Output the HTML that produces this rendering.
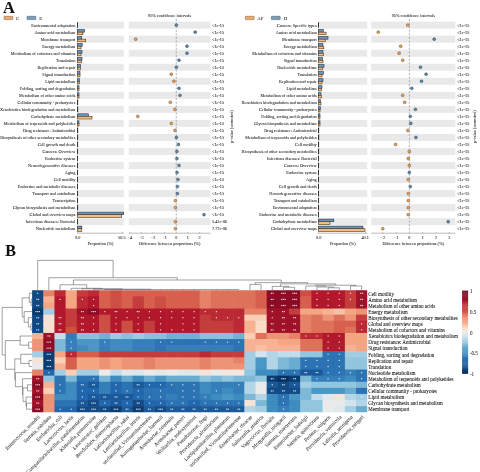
<!DOCTYPE html>
<html><head><meta charset="utf-8"><title>Figure</title>
<style>html,body{margin:0;padding:0;background:#fff;width:480px;height:472px;overflow:hidden}
svg text{font-family:'Liberation Serif',serif;stroke:currentColor;stroke-width:0.06px}</style></head>
<body>
<svg width="480" height="472" viewBox="0 0 480 472" style="display:block;font-family:'Liberation Serif',serif;will-change:transform">
<rect width="480" height="472" fill="#fff"/>
<text x="3.10" y="13.20" font-size="16.4" text-anchor="start" fill="#111" color="#111" font-weight="bold" >A</text>
<text x="5.20" y="255.60" font-size="16.0" text-anchor="start" fill="#111" color="#111" font-weight="bold" >B</text>
<rect x="77.3" y="21.65" width="46.50" height="7" fill="#e9e9e9"/>
<rect x="128.75" y="21.65" width="81.75" height="7" fill="#e9e9e9"/>
<rect x="77.3" y="35.69" width="46.50" height="7" fill="#e9e9e9"/>
<rect x="128.75" y="35.69" width="81.75" height="7" fill="#e9e9e9"/>
<rect x="77.3" y="49.73" width="46.50" height="7" fill="#e9e9e9"/>
<rect x="128.75" y="49.73" width="81.75" height="7" fill="#e9e9e9"/>
<rect x="77.3" y="63.77" width="46.50" height="7" fill="#e9e9e9"/>
<rect x="128.75" y="63.77" width="81.75" height="7" fill="#e9e9e9"/>
<rect x="77.3" y="77.81" width="46.50" height="7" fill="#e9e9e9"/>
<rect x="128.75" y="77.81" width="81.75" height="7" fill="#e9e9e9"/>
<rect x="77.3" y="91.85" width="46.50" height="7" fill="#e9e9e9"/>
<rect x="128.75" y="91.85" width="81.75" height="7" fill="#e9e9e9"/>
<rect x="77.3" y="105.89" width="46.50" height="7" fill="#e9e9e9"/>
<rect x="128.75" y="105.89" width="81.75" height="7" fill="#e9e9e9"/>
<rect x="77.3" y="119.93" width="46.50" height="7" fill="#e9e9e9"/>
<rect x="128.75" y="119.93" width="81.75" height="7" fill="#e9e9e9"/>
<rect x="77.3" y="133.97" width="46.50" height="7" fill="#e9e9e9"/>
<rect x="128.75" y="133.97" width="81.75" height="7" fill="#e9e9e9"/>
<rect x="77.3" y="148.01" width="46.50" height="7" fill="#e9e9e9"/>
<rect x="128.75" y="148.01" width="81.75" height="7" fill="#e9e9e9"/>
<rect x="77.3" y="162.05" width="46.50" height="7" fill="#e9e9e9"/>
<rect x="128.75" y="162.05" width="81.75" height="7" fill="#e9e9e9"/>
<rect x="77.3" y="176.09" width="46.50" height="7" fill="#e9e9e9"/>
<rect x="128.75" y="176.09" width="81.75" height="7" fill="#e9e9e9"/>
<rect x="77.3" y="190.13" width="46.50" height="7" fill="#e9e9e9"/>
<rect x="128.75" y="190.13" width="81.75" height="7" fill="#e9e9e9"/>
<rect x="77.3" y="204.17" width="46.50" height="7" fill="#e9e9e9"/>
<rect x="128.75" y="204.17" width="81.75" height="7" fill="#e9e9e9"/>
<rect x="77.3" y="218.21" width="46.50" height="7" fill="#e9e9e9"/>
<rect x="128.75" y="218.21" width="81.75" height="7" fill="#e9e9e9"/>
<line x1="176.25" y1="19" x2="176.25" y2="232" stroke="#666" stroke-width="0.5" stroke-dasharray="2,1.6"/>
<text x="75.30" y="26.55" font-size="4.25" text-anchor="end" fill="#222" color="#222" font-weight="normal" >Environmental adaptation</text>
<rect x="77.00" y="22.25" width="0.95" height="5.6" fill="#333"/>
<circle cx="176.4" cy="25.15" r="1.45" fill="#6189a6" stroke="#283c4e" stroke-width="0.45"/>
<text x="212.00" y="26.55" font-size="4.25" text-anchor="start" fill="#222" color="#222" font-weight="normal" >&lt;1e-15</text>
<text x="75.30" y="33.57" font-size="4.25" text-anchor="end" fill="#222" color="#222" font-weight="normal" >Amino acid metabolism</text>
<rect x="77.3" y="29.57" width="7.20" height="2.6" fill="#6b97bc" stroke="#1f3347" stroke-width="0.6"/>
<rect x="77.3" y="32.17" width="5.60" height="2.6" fill="#f4bd85" stroke="#4f3312" stroke-width="0.6"/>
<circle cx="195.2" cy="32.17" r="1.45" fill="#6189a6" stroke="#283c4e" stroke-width="0.45"/>
<text x="212.00" y="33.57" font-size="4.25" text-anchor="start" fill="#222" color="#222" font-weight="normal" >&lt;1e-15</text>
<text x="75.30" y="40.59" font-size="4.25" text-anchor="end" fill="#222" color="#222" font-weight="normal" >Membrane transport</text>
<rect x="77.3" y="36.59" width="4.40" height="2.6" fill="#6b97bc" stroke="#1f3347" stroke-width="0.6"/>
<rect x="77.3" y="39.19" width="8.40" height="2.6" fill="#f4bd85" stroke="#4f3312" stroke-width="0.6"/>
<circle cx="135.7" cy="39.19" r="1.45" fill="#e3a162" stroke="#6e4418" stroke-width="0.45"/>
<text x="212.00" y="40.59" font-size="4.25" text-anchor="start" fill="#222" color="#222" font-weight="normal" >&lt;1e-15</text>
<text x="75.30" y="47.61" font-size="4.25" text-anchor="end" fill="#222" color="#222" font-weight="normal" >Energy metabolism</text>
<rect x="77.3" y="43.61" width="4.90" height="2.6" fill="#6b97bc" stroke="#1f3347" stroke-width="0.6"/>
<rect x="77.3" y="46.21" width="3.70" height="2.6" fill="#f4bd85" stroke="#4f3312" stroke-width="0.6"/>
<circle cx="187" cy="46.21" r="1.45" fill="#6189a6" stroke="#283c4e" stroke-width="0.45"/>
<text x="212.00" y="47.61" font-size="4.25" text-anchor="start" fill="#222" color="#222" font-weight="normal" >&lt;1e-15</text>
<text x="75.30" y="54.63" font-size="4.25" text-anchor="end" fill="#222" color="#222" font-weight="normal" >Metabolism of cofactors and vitamins</text>
<rect x="77.3" y="50.63" width="4.70" height="2.6" fill="#6b97bc" stroke="#1f3347" stroke-width="0.6"/>
<rect x="77.3" y="53.23" width="3.70" height="2.6" fill="#f4bd85" stroke="#4f3312" stroke-width="0.6"/>
<circle cx="187" cy="53.23" r="1.45" fill="#6189a6" stroke="#283c4e" stroke-width="0.45"/>
<text x="212.00" y="54.63" font-size="4.25" text-anchor="start" fill="#222" color="#222" font-weight="normal" >&lt;1e-15</text>
<text x="75.30" y="61.65" font-size="4.25" text-anchor="end" fill="#222" color="#222" font-weight="normal" >Translation</text>
<rect x="77.3" y="57.65" width="4.70" height="2.6" fill="#6b97bc" stroke="#1f3347" stroke-width="0.6"/>
<rect x="77.3" y="60.25" width="4.20" height="2.6" fill="#f4bd85" stroke="#4f3312" stroke-width="0.6"/>
<circle cx="179" cy="60.25" r="1.45" fill="#6189a6" stroke="#283c4e" stroke-width="0.45"/>
<text x="212.00" y="61.65" font-size="4.25" text-anchor="start" fill="#222" color="#222" font-weight="normal" >&lt;1e-15</text>
<text x="75.30" y="68.67" font-size="4.25" text-anchor="end" fill="#222" color="#222" font-weight="normal" >Replication and repair</text>
<rect x="77.3" y="64.67" width="3.20" height="2.6" fill="#6b97bc" stroke="#1f3347" stroke-width="0.6"/>
<rect x="77.3" y="67.27" width="3.20" height="2.6" fill="#f4bd85" stroke="#4f3312" stroke-width="0.6"/>
<circle cx="176.4" cy="67.27" r="1.45" fill="#6189a6" stroke="#283c4e" stroke-width="0.45"/>
<text x="212.00" y="68.67" font-size="4.25" text-anchor="start" fill="#222" color="#222" font-weight="normal" >&lt;1e-15</text>
<text x="75.30" y="75.69" font-size="4.25" text-anchor="end" fill="#222" color="#222" font-weight="normal" >Signal transduction</text>
<rect x="77.3" y="71.69" width="2.70" height="2.6" fill="#6b97bc" stroke="#1f3347" stroke-width="0.6"/>
<rect x="77.3" y="74.29" width="2.70" height="2.6" fill="#f4bd85" stroke="#4f3312" stroke-width="0.6"/>
<circle cx="171.3" cy="74.29" r="1.45" fill="#e3a162" stroke="#6e4418" stroke-width="0.45"/>
<text x="212.00" y="75.69" font-size="4.25" text-anchor="start" fill="#222" color="#222" font-weight="normal" >&lt;1e-15</text>
<text x="75.30" y="82.71" font-size="4.25" text-anchor="end" fill="#222" color="#222" font-weight="normal" >Lipid metabolism</text>
<rect x="77.3" y="78.71" width="2.20" height="2.6" fill="#6b97bc" stroke="#1f3347" stroke-width="0.6"/>
<rect x="77.3" y="81.31" width="2.20" height="2.6" fill="#f4bd85" stroke="#4f3312" stroke-width="0.6"/>
<circle cx="173.9" cy="81.31" r="1.45" fill="#e3a162" stroke="#6e4418" stroke-width="0.45"/>
<text x="212.00" y="82.71" font-size="4.25" text-anchor="start" fill="#222" color="#222" font-weight="normal" >&lt;1e-15</text>
<text x="75.30" y="89.73" font-size="4.25" text-anchor="end" fill="#222" color="#222" font-weight="normal" >Folding, sorting and degradation</text>
<rect x="77.3" y="85.73" width="1.70" height="2.6" fill="#6b97bc" stroke="#1f3347" stroke-width="0.6"/>
<rect x="77.3" y="88.33" width="1.70" height="2.6" fill="#f4bd85" stroke="#4f3312" stroke-width="0.6"/>
<circle cx="179" cy="88.33" r="1.45" fill="#6189a6" stroke="#283c4e" stroke-width="0.45"/>
<text x="212.00" y="89.73" font-size="4.25" text-anchor="start" fill="#222" color="#222" font-weight="normal" >&lt;1e-15</text>
<text x="75.30" y="96.75" font-size="4.25" text-anchor="end" fill="#222" color="#222" font-weight="normal" >Metabolism of other amino acids</text>
<rect x="77.3" y="92.75" width="1.70" height="2.6" fill="#6b97bc" stroke="#1f3347" stroke-width="0.6"/>
<rect x="77.3" y="95.35" width="1.70" height="2.6" fill="#f4bd85" stroke="#4f3312" stroke-width="0.6"/>
<circle cx="180" cy="95.35" r="1.45" fill="#6189a6" stroke="#283c4e" stroke-width="0.45"/>
<text x="212.00" y="96.75" font-size="4.25" text-anchor="start" fill="#222" color="#222" font-weight="normal" >&lt;1e-15</text>
<text x="75.30" y="103.77" font-size="4.25" text-anchor="end" fill="#222" color="#222" font-weight="normal" >Cellular community - prokaryotes</text>
<rect x="77.00" y="99.47" width="1.16" height="5.6" fill="#333"/>
<circle cx="170.3" cy="102.37" r="1.45" fill="#e3a162" stroke="#6e4418" stroke-width="0.45"/>
<text x="212.00" y="103.77" font-size="4.25" text-anchor="start" fill="#222" color="#222" font-weight="normal" >&lt;1e-15</text>
<text x="75.30" y="110.79" font-size="4.25" text-anchor="end" fill="#222" color="#222" font-weight="normal" >Xenobiotics biodegradation and metabolism</text>
<rect x="77.00" y="106.49" width="1.16" height="5.6" fill="#333"/>
<circle cx="174.9" cy="109.39" r="1.45" fill="#e3a162" stroke="#6e4418" stroke-width="0.45"/>
<text x="212.00" y="110.79" font-size="4.25" text-anchor="start" fill="#222" color="#222" font-weight="normal" >&lt;1e-15</text>
<text x="75.30" y="117.81" font-size="4.25" text-anchor="end" fill="#222" color="#222" font-weight="normal" >Carbohydrate metabolism</text>
<rect x="77.3" y="113.81" width="11.20" height="2.6" fill="#6b97bc" stroke="#1f3347" stroke-width="0.6"/>
<rect x="77.3" y="116.41" width="14.70" height="2.6" fill="#f4bd85" stroke="#4f3312" stroke-width="0.6"/>
<circle cx="137.8" cy="116.41" r="1.45" fill="#e3a162" stroke="#6e4418" stroke-width="0.45"/>
<text x="212.00" y="117.81" font-size="4.25" text-anchor="start" fill="#222" color="#222" font-weight="normal" >&lt;1e-15</text>
<text x="75.30" y="124.83" font-size="4.25" text-anchor="end" fill="#222" color="#222" font-weight="normal" >Metabolism of terpenoids and polyketides</text>
<rect x="77.3" y="120.83" width="1.70" height="2.6" fill="#6b97bc" stroke="#1f3347" stroke-width="0.6"/>
<rect x="77.3" y="123.43" width="1.70" height="2.6" fill="#f4bd85" stroke="#4f3312" stroke-width="0.6"/>
<circle cx="171.3" cy="123.43" r="1.45" fill="#e3a162" stroke="#6e4418" stroke-width="0.45"/>
<text x="212.00" y="124.83" font-size="4.25" text-anchor="start" fill="#222" color="#222" font-weight="normal" >&lt;1e-15</text>
<text x="75.30" y="131.85" font-size="4.25" text-anchor="end" fill="#222" color="#222" font-weight="normal" >Drug resistance: Antimicrobial</text>
<rect x="77.00" y="127.55" width="1.16" height="5.6" fill="#333"/>
<circle cx="175" cy="130.45" r="1.45" fill="#e3a162" stroke="#6e4418" stroke-width="0.45"/>
<text x="212.00" y="131.85" font-size="4.25" text-anchor="start" fill="#222" color="#222" font-weight="normal" >&lt;1e-15</text>
<text x="75.30" y="138.87" font-size="4.25" text-anchor="end" fill="#222" color="#222" font-weight="normal" >Biosynthesis of other secondary metabolites</text>
<rect x="77.00" y="134.57" width="1.10" height="5.6" fill="#333"/>
<circle cx="176.4" cy="137.47" r="1.45" fill="#6189a6" stroke="#283c4e" stroke-width="0.45"/>
<text x="212.00" y="138.87" font-size="4.25" text-anchor="start" fill="#222" color="#222" font-weight="normal" >&lt;1e-15</text>
<text x="75.30" y="145.89" font-size="4.25" text-anchor="end" fill="#222" color="#222" font-weight="normal" >Cell growth and death</text>
<rect x="77.00" y="141.59" width="1.10" height="5.6" fill="#333"/>
<circle cx="178.4" cy="144.49" r="1.45" fill="#6189a6" stroke="#283c4e" stroke-width="0.45"/>
<text x="212.00" y="145.89" font-size="4.25" text-anchor="start" fill="#222" color="#222" font-weight="normal" >&lt;1e-15</text>
<text x="75.30" y="152.91" font-size="4.25" text-anchor="end" fill="#222" color="#222" font-weight="normal" >Cancers: Overview</text>
<rect x="77.00" y="148.61" width="1.01" height="5.6" fill="#333"/>
<circle cx="176.9" cy="151.51" r="1.45" fill="#6189a6" stroke="#283c4e" stroke-width="0.45"/>
<text x="212.00" y="152.91" font-size="4.25" text-anchor="start" fill="#222" color="#222" font-weight="normal" >&lt;1e-15</text>
<text x="75.30" y="159.93" font-size="4.25" text-anchor="end" fill="#222" color="#222" font-weight="normal" >Endocrine system</text>
<rect x="77.00" y="155.63" width="1.01" height="5.6" fill="#333"/>
<circle cx="176.9" cy="158.53" r="1.45" fill="#6189a6" stroke="#283c4e" stroke-width="0.45"/>
<text x="212.00" y="159.93" font-size="4.25" text-anchor="start" fill="#222" color="#222" font-weight="normal" >&lt;1e-15</text>
<text x="75.30" y="166.95" font-size="4.25" text-anchor="end" fill="#222" color="#222" font-weight="normal" >Neurodegenerative diseases</text>
<rect x="77.00" y="162.65" width="1.01" height="5.6" fill="#333"/>
<circle cx="179" cy="165.55" r="1.45" fill="#6189a6" stroke="#283c4e" stroke-width="0.45"/>
<text x="212.00" y="166.95" font-size="4.25" text-anchor="start" fill="#222" color="#222" font-weight="normal" >&lt;1e-15</text>
<text x="75.30" y="173.97" font-size="4.25" text-anchor="end" fill="#222" color="#222" font-weight="normal" >Aging</text>
<rect x="77.00" y="169.67" width="1.01" height="5.6" fill="#333"/>
<circle cx="177" cy="172.57" r="1.45" fill="#6189a6" stroke="#283c4e" stroke-width="0.45"/>
<text x="212.00" y="173.97" font-size="4.25" text-anchor="start" fill="#222" color="#222" font-weight="normal" >&lt;1e-15</text>
<text x="75.30" y="180.99" font-size="4.25" text-anchor="end" fill="#222" color="#222" font-weight="normal" >Cell motility</text>
<rect x="77.00" y="176.69" width="1.01" height="5.6" fill="#333"/>
<circle cx="178" cy="179.59" r="1.45" fill="#6189a6" stroke="#283c4e" stroke-width="0.45"/>
<text x="212.00" y="180.99" font-size="4.25" text-anchor="start" fill="#222" color="#222" font-weight="normal" >&lt;1e-15</text>
<text x="75.30" y="188.01" font-size="4.25" text-anchor="end" fill="#222" color="#222" font-weight="normal" >Endocrine and metabolic diseases</text>
<rect x="77.00" y="183.71" width="1.01" height="5.6" fill="#333"/>
<circle cx="177.4" cy="186.61" r="1.45" fill="#6189a6" stroke="#283c4e" stroke-width="0.45"/>
<text x="212.00" y="188.01" font-size="4.25" text-anchor="start" fill="#222" color="#222" font-weight="normal" >&lt;1e-15</text>
<text x="75.30" y="195.03" font-size="4.25" text-anchor="end" fill="#222" color="#222" font-weight="normal" >Transport and catabolism</text>
<rect x="77.00" y="190.73" width="1.01" height="5.6" fill="#333"/>
<circle cx="177.4" cy="193.63" r="1.45" fill="#6189a6" stroke="#283c4e" stroke-width="0.45"/>
<text x="212.00" y="195.03" font-size="4.25" text-anchor="start" fill="#222" color="#222" font-weight="normal" >&lt;1e-15</text>
<text x="75.30" y="202.05" font-size="4.25" text-anchor="end" fill="#222" color="#222" font-weight="normal" >Transcription</text>
<rect x="77.00" y="197.75" width="1.01" height="5.6" fill="#333"/>
<circle cx="175.4" cy="200.65" r="1.45" fill="#e3a162" stroke="#6e4418" stroke-width="0.45"/>
<text x="212.00" y="202.05" font-size="4.25" text-anchor="start" fill="#222" color="#222" font-weight="normal" >&lt;1e-15</text>
<text x="75.30" y="209.07" font-size="4.25" text-anchor="end" fill="#222" color="#222" font-weight="normal" >Glycan biosynthesis and metabolism</text>
<rect x="77.00" y="204.77" width="1.10" height="5.6" fill="#333"/>
<circle cx="175.4" cy="207.67" r="1.45" fill="#e3a162" stroke="#6e4418" stroke-width="0.45"/>
<text x="212.00" y="209.07" font-size="4.25" text-anchor="start" fill="#222" color="#222" font-weight="normal" >&lt;1e-15</text>
<text x="75.30" y="216.09" font-size="4.25" text-anchor="end" fill="#222" color="#222" font-weight="normal" >Global and overview maps</text>
<rect x="77.3" y="212.09" width="46.40" height="2.6" fill="#6b97bc" stroke="#1f3347" stroke-width="0.6"/>
<rect x="77.3" y="214.69" width="44.40" height="2.6" fill="#f4bd85" stroke="#4f3312" stroke-width="0.6"/>
<circle cx="204.0" cy="214.69" r="1.45" fill="#6189a6" stroke="#283c4e" stroke-width="0.45"/>
<text x="212.00" y="216.09" font-size="4.25" text-anchor="start" fill="#222" color="#222" font-weight="normal" >&lt;1e-15</text>
<text x="75.30" y="223.11" font-size="4.25" text-anchor="end" fill="#222" color="#222" font-weight="normal" >Infectious diseases: Bacterial</text>
<rect x="77.00" y="218.81" width="0.98" height="5.6" fill="#333"/>
<circle cx="175.4" cy="221.71" r="1.45" fill="#e3a162" stroke="#6e4418" stroke-width="0.45"/>
<text x="212.00" y="223.11" font-size="4.25" text-anchor="start" fill="#222" color="#222" font-weight="normal" >5.43e-06</text>
<text x="75.30" y="230.13" font-size="4.25" text-anchor="end" fill="#222" color="#222" font-weight="normal" >Nucleotide metabolism</text>
<rect x="77.3" y="226.13" width="4.50" height="2.6" fill="#6b97bc" stroke="#1f3347" stroke-width="0.6"/>
<rect x="77.3" y="228.73" width="4.50" height="2.6" fill="#f4bd85" stroke="#4f3312" stroke-width="0.6"/>
<circle cx="175.4" cy="228.73" r="1.45" fill="#e3a162" stroke="#6e4418" stroke-width="0.45"/>
<text x="212.00" y="230.13" font-size="4.25" text-anchor="start" fill="#222" color="#222" font-weight="normal" >7.77e-06</text>
<line x1="77.3" y1="233.2" x2="123.8" y2="233.2" stroke="#777" stroke-width="0.5"/>
<line x1="77.3" y1="233.2" x2="77.3" y2="232.2" stroke="#777" stroke-width="0.5"/>
<line x1="122.3" y1="233.2" x2="122.3" y2="232.2" stroke="#777" stroke-width="0.5"/>
<text x="77.70" y="238.90" font-size="4.25" text-anchor="middle" fill="#222" color="#222" font-weight="normal" >0.0</text>
<text x="121.80" y="238.90" font-size="4.25" text-anchor="middle" fill="#222" color="#222" font-weight="normal" >50.5</text>
<line x1="128.75" y1="233.2" x2="210.5" y2="233.2" stroke="#777" stroke-width="0.5"/>
<line x1="129.85" y1="233.2" x2="129.85" y2="232.2" stroke="#777" stroke-width="0.5"/>
<text x="129.85" y="238.90" font-size="4.25" text-anchor="middle" fill="#222" color="#222" font-weight="normal" >−4</text>
<line x1="141.45" y1="233.2" x2="141.45" y2="232.2" stroke="#777" stroke-width="0.5"/>
<text x="141.45" y="238.90" font-size="4.25" text-anchor="middle" fill="#222" color="#222" font-weight="normal" >−3</text>
<line x1="153.05" y1="233.2" x2="153.05" y2="232.2" stroke="#777" stroke-width="0.5"/>
<text x="153.05" y="238.90" font-size="4.25" text-anchor="middle" fill="#222" color="#222" font-weight="normal" >−2</text>
<line x1="164.65" y1="233.2" x2="164.65" y2="232.2" stroke="#777" stroke-width="0.5"/>
<text x="164.65" y="238.90" font-size="4.25" text-anchor="middle" fill="#222" color="#222" font-weight="normal" >−1</text>
<line x1="176.25" y1="233.2" x2="176.25" y2="232.2" stroke="#777" stroke-width="0.5"/>
<text x="176.25" y="238.90" font-size="4.25" text-anchor="middle" fill="#222" color="#222" font-weight="normal" >0</text>
<line x1="187.85" y1="233.2" x2="187.85" y2="232.2" stroke="#777" stroke-width="0.5"/>
<text x="187.85" y="238.90" font-size="4.25" text-anchor="middle" fill="#222" color="#222" font-weight="normal" >1</text>
<line x1="199.45" y1="233.2" x2="199.45" y2="232.2" stroke="#777" stroke-width="0.5"/>
<text x="199.45" y="238.90" font-size="4.25" text-anchor="middle" fill="#222" color="#222" font-weight="normal" >2</text>
<text x="100.55" y="245.00" font-size="4.25" text-anchor="middle" fill="#222" color="#222" font-weight="normal" >Proportion (%)</text>
<text x="169.62" y="245.00" font-size="4.25" text-anchor="middle" fill="#222" color="#222" font-weight="normal" >Difference between proportions (%)</text>
<text x="169.62" y="16.90" font-size="4.25" text-anchor="middle" fill="#222" color="#222" font-weight="normal" >95% confidence intervals</text>
<rect x="4.0" y="16.3" width="8.8" height="3.3" rx="0.5" fill="#e9aa74" stroke="#8b5a2b" stroke-width="0.5"/>
<text x="15.80" y="19.60" font-size="4.8" text-anchor="start" fill="#222" color="#222" font-weight="normal" >C</text>
<rect x="27.0" y="16.3" width="8.8" height="3.3" rx="0.5" fill="#7f9db8" stroke="#3b5670" stroke-width="0.5"/>
<text x="39.30" y="19.60" font-size="4.8" text-anchor="start" fill="#222" color="#222" font-weight="normal" >E</text>
<text x="0" y="0" font-size="4.25" text-anchor="middle" fill="#222" color="#222" transform="translate(232.5,126.6) rotate(-90)">p-value (corrected)</text>
<rect x="318.3" y="21.65" width="48.90" height="7" fill="#e9e9e9"/>
<rect x="371.2" y="21.65" width="84.10" height="7" fill="#e9e9e9"/>
<rect x="318.3" y="35.69" width="48.90" height="7" fill="#e9e9e9"/>
<rect x="371.2" y="35.69" width="84.10" height="7" fill="#e9e9e9"/>
<rect x="318.3" y="49.73" width="48.90" height="7" fill="#e9e9e9"/>
<rect x="371.2" y="49.73" width="84.10" height="7" fill="#e9e9e9"/>
<rect x="318.3" y="63.77" width="48.90" height="7" fill="#e9e9e9"/>
<rect x="371.2" y="63.77" width="84.10" height="7" fill="#e9e9e9"/>
<rect x="318.3" y="77.81" width="48.90" height="7" fill="#e9e9e9"/>
<rect x="371.2" y="77.81" width="84.10" height="7" fill="#e9e9e9"/>
<rect x="318.3" y="91.85" width="48.90" height="7" fill="#e9e9e9"/>
<rect x="371.2" y="91.85" width="84.10" height="7" fill="#e9e9e9"/>
<rect x="318.3" y="105.89" width="48.90" height="7" fill="#e9e9e9"/>
<rect x="371.2" y="105.89" width="84.10" height="7" fill="#e9e9e9"/>
<rect x="318.3" y="119.93" width="48.90" height="7" fill="#e9e9e9"/>
<rect x="371.2" y="119.93" width="84.10" height="7" fill="#e9e9e9"/>
<rect x="318.3" y="133.97" width="48.90" height="7" fill="#e9e9e9"/>
<rect x="371.2" y="133.97" width="84.10" height="7" fill="#e9e9e9"/>
<rect x="318.3" y="148.01" width="48.90" height="7" fill="#e9e9e9"/>
<rect x="371.2" y="148.01" width="84.10" height="7" fill="#e9e9e9"/>
<rect x="318.3" y="162.05" width="48.90" height="7" fill="#e9e9e9"/>
<rect x="371.2" y="162.05" width="84.10" height="7" fill="#e9e9e9"/>
<rect x="318.3" y="176.09" width="48.90" height="7" fill="#e9e9e9"/>
<rect x="371.2" y="176.09" width="84.10" height="7" fill="#e9e9e9"/>
<rect x="318.3" y="190.13" width="48.90" height="7" fill="#e9e9e9"/>
<rect x="371.2" y="190.13" width="84.10" height="7" fill="#e9e9e9"/>
<rect x="318.3" y="204.17" width="48.90" height="7" fill="#e9e9e9"/>
<rect x="371.2" y="204.17" width="84.10" height="7" fill="#e9e9e9"/>
<rect x="318.3" y="218.21" width="48.90" height="7" fill="#e9e9e9"/>
<rect x="371.2" y="218.21" width="84.10" height="7" fill="#e9e9e9"/>
<line x1="409.4" y1="19" x2="409.4" y2="232" stroke="#666" stroke-width="0.5" stroke-dasharray="2,1.6"/>
<text x="316.70" y="26.55" font-size="4.25" text-anchor="end" fill="#222" color="#222" font-weight="normal" >Cancers: Specific types</text>
<rect x="318.00" y="22.25" width="0.95" height="5.6" fill="#333"/>
<circle cx="407.8" cy="25.15" r="1.45" fill="#e3a162" stroke="#6e4418" stroke-width="0.45"/>
<text x="457.20" y="26.55" font-size="4.25" text-anchor="start" fill="#222" color="#222" font-weight="normal" >&lt;1e-15</text>
<text x="316.70" y="33.57" font-size="4.25" text-anchor="end" fill="#222" color="#222" font-weight="normal" >Amino acid metabolism</text>
<rect x="318.3" y="29.57" width="5.00" height="2.6" fill="#6b97bc" stroke="#1f3347" stroke-width="0.6"/>
<rect x="318.3" y="32.17" width="7.80" height="2.6" fill="#f4bd85" stroke="#4f3312" stroke-width="0.6"/>
<circle cx="378.3" cy="32.17" r="1.45" fill="#e3a162" stroke="#6e4418" stroke-width="0.45"/>
<text x="457.20" y="33.57" font-size="4.25" text-anchor="start" fill="#222" color="#222" font-weight="normal" >&lt;1e-15</text>
<text x="316.70" y="40.59" font-size="4.25" text-anchor="end" fill="#222" color="#222" font-weight="normal" >Membrane transport</text>
<rect x="318.3" y="36.59" width="9.70" height="2.6" fill="#6b97bc" stroke="#1f3347" stroke-width="0.6"/>
<rect x="318.3" y="39.19" width="6.90" height="2.6" fill="#f4bd85" stroke="#4f3312" stroke-width="0.6"/>
<circle cx="434.2" cy="39.19" r="1.45" fill="#6189a6" stroke="#283c4e" stroke-width="0.45"/>
<text x="457.20" y="40.59" font-size="4.25" text-anchor="start" fill="#222" color="#222" font-weight="normal" >&lt;1e-15</text>
<text x="316.70" y="47.61" font-size="4.25" text-anchor="end" fill="#222" color="#222" font-weight="normal" >Energy metabolism</text>
<rect x="318.3" y="43.61" width="4.60" height="2.6" fill="#6b97bc" stroke="#1f3347" stroke-width="0.6"/>
<rect x="318.3" y="46.21" width="5.50" height="2.6" fill="#f4bd85" stroke="#4f3312" stroke-width="0.6"/>
<circle cx="400.7" cy="46.21" r="1.45" fill="#e3a162" stroke="#6e4418" stroke-width="0.45"/>
<text x="457.20" y="47.61" font-size="4.25" text-anchor="start" fill="#222" color="#222" font-weight="normal" >&lt;1e-15</text>
<text x="316.70" y="54.63" font-size="4.25" text-anchor="end" fill="#222" color="#222" font-weight="normal" >Metabolism of cofactors and vitamins</text>
<rect x="318.3" y="50.63" width="4.70" height="2.6" fill="#6b97bc" stroke="#1f3347" stroke-width="0.6"/>
<rect x="318.3" y="53.23" width="5.20" height="2.6" fill="#f4bd85" stroke="#4f3312" stroke-width="0.6"/>
<circle cx="399.1" cy="53.23" r="1.45" fill="#e3a162" stroke="#6e4418" stroke-width="0.45"/>
<text x="457.20" y="54.63" font-size="4.25" text-anchor="start" fill="#222" color="#222" font-weight="normal" >&lt;1e-15</text>
<text x="316.70" y="61.65" font-size="4.25" text-anchor="end" fill="#222" color="#222" font-weight="normal" >Signal transduction</text>
<rect x="318.3" y="57.65" width="4.20" height="2.6" fill="#6b97bc" stroke="#1f3347" stroke-width="0.6"/>
<rect x="318.3" y="60.25" width="4.70" height="2.6" fill="#f4bd85" stroke="#4f3312" stroke-width="0.6"/>
<circle cx="402.7" cy="60.25" r="1.45" fill="#e3a162" stroke="#6e4418" stroke-width="0.45"/>
<text x="457.20" y="61.65" font-size="4.25" text-anchor="start" fill="#222" color="#222" font-weight="normal" >&lt;1e-15</text>
<text x="316.70" y="68.67" font-size="4.25" text-anchor="end" fill="#222" color="#222" font-weight="normal" >Nucleotide metabolism</text>
<rect x="318.3" y="64.67" width="5.70" height="2.6" fill="#6b97bc" stroke="#1f3347" stroke-width="0.6"/>
<rect x="318.3" y="67.27" width="4.20" height="2.6" fill="#f4bd85" stroke="#4f3312" stroke-width="0.6"/>
<circle cx="420.5" cy="67.27" r="1.45" fill="#6189a6" stroke="#283c4e" stroke-width="0.45"/>
<text x="457.20" y="68.67" font-size="4.25" text-anchor="start" fill="#222" color="#222" font-weight="normal" >&lt;1e-15</text>
<text x="316.70" y="75.69" font-size="4.25" text-anchor="end" fill="#222" color="#222" font-weight="normal" >Translation</text>
<rect x="318.3" y="71.69" width="5.20" height="2.6" fill="#6b97bc" stroke="#1f3347" stroke-width="0.6"/>
<rect x="318.3" y="74.29" width="3.70" height="2.6" fill="#f4bd85" stroke="#4f3312" stroke-width="0.6"/>
<circle cx="426.1" cy="74.29" r="1.45" fill="#6189a6" stroke="#283c4e" stroke-width="0.45"/>
<text x="457.20" y="75.69" font-size="4.25" text-anchor="start" fill="#222" color="#222" font-weight="normal" >&lt;1e-15</text>
<text x="316.70" y="82.71" font-size="4.25" text-anchor="end" fill="#222" color="#222" font-weight="normal" >Replication and repair</text>
<rect x="318.3" y="78.71" width="4.70" height="2.6" fill="#6b97bc" stroke="#1f3347" stroke-width="0.6"/>
<rect x="318.3" y="81.31" width="3.70" height="2.6" fill="#f4bd85" stroke="#4f3312" stroke-width="0.6"/>
<circle cx="421.5" cy="81.31" r="1.45" fill="#6189a6" stroke="#283c4e" stroke-width="0.45"/>
<text x="457.20" y="82.71" font-size="4.25" text-anchor="start" fill="#222" color="#222" font-weight="normal" >&lt;1e-15</text>
<text x="316.70" y="89.73" font-size="4.25" text-anchor="end" fill="#222" color="#222" font-weight="normal" >Lipid metabolism</text>
<rect x="318.3" y="85.73" width="3.70" height="2.6" fill="#6b97bc" stroke="#1f3347" stroke-width="0.6"/>
<rect x="318.3" y="88.33" width="3.20" height="2.6" fill="#f4bd85" stroke="#4f3312" stroke-width="0.6"/>
<circle cx="411.8" cy="88.33" r="1.45" fill="#6189a6" stroke="#283c4e" stroke-width="0.45"/>
<text x="457.20" y="89.73" font-size="4.25" text-anchor="start" fill="#222" color="#222" font-weight="normal" >&lt;1e-15</text>
<text x="316.70" y="96.75" font-size="4.25" text-anchor="end" fill="#222" color="#222" font-weight="normal" >Metabolism of other amino acids</text>
<rect x="318.3" y="92.75" width="2.70" height="2.6" fill="#6b97bc" stroke="#1f3347" stroke-width="0.6"/>
<rect x="318.3" y="95.35" width="3.20" height="2.6" fill="#f4bd85" stroke="#4f3312" stroke-width="0.6"/>
<circle cx="402.7" cy="95.35" r="1.45" fill="#e3a162" stroke="#6e4418" stroke-width="0.45"/>
<text x="457.20" y="96.75" font-size="4.25" text-anchor="start" fill="#222" color="#222" font-weight="normal" >&lt;1e-15</text>
<text x="316.70" y="103.77" font-size="4.25" text-anchor="end" fill="#222" color="#222" font-weight="normal" >Xenobiotics biodegradation and metabolism</text>
<rect x="318.3" y="99.77" width="2.20" height="2.6" fill="#6b97bc" stroke="#1f3347" stroke-width="0.6"/>
<rect x="318.3" y="102.37" width="2.70" height="2.6" fill="#f4bd85" stroke="#4f3312" stroke-width="0.6"/>
<circle cx="404.7" cy="102.37" r="1.45" fill="#e3a162" stroke="#6e4418" stroke-width="0.45"/>
<text x="457.20" y="103.77" font-size="4.25" text-anchor="start" fill="#222" color="#222" font-weight="normal" >&lt;1e-15</text>
<text x="316.70" y="110.79" font-size="4.25" text-anchor="end" fill="#222" color="#222" font-weight="normal" >Cellular community - prokaryotes</text>
<rect x="318.3" y="106.79" width="2.20" height="2.6" fill="#6b97bc" stroke="#1f3347" stroke-width="0.6"/>
<rect x="318.3" y="109.39" width="1.70" height="2.6" fill="#f4bd85" stroke="#4f3312" stroke-width="0.6"/>
<circle cx="415.4" cy="109.39" r="1.45" fill="#6189a6" stroke="#283c4e" stroke-width="0.45"/>
<text x="457.20" y="110.79" font-size="4.25" text-anchor="start" fill="#222" color="#222" font-weight="normal" >&lt;1e-15</text>
<text x="316.70" y="117.81" font-size="4.25" text-anchor="end" fill="#222" color="#222" font-weight="normal" >Folding, sorting and degradation</text>
<rect x="318.3" y="113.81" width="1.70" height="2.6" fill="#6b97bc" stroke="#1f3347" stroke-width="0.6"/>
<rect x="318.3" y="116.41" width="1.70" height="2.6" fill="#f4bd85" stroke="#4f3312" stroke-width="0.6"/>
<circle cx="410.3" cy="116.41" r="1.45" fill="#6189a6" stroke="#283c4e" stroke-width="0.45"/>
<text x="457.20" y="117.81" font-size="4.25" text-anchor="start" fill="#222" color="#222" font-weight="normal" >&lt;1e-15</text>
<text x="316.70" y="124.83" font-size="4.25" text-anchor="end" fill="#222" color="#222" font-weight="normal" >Glycan biosynthesis and metabolism</text>
<rect x="318.3" y="120.83" width="1.70" height="2.6" fill="#6b97bc" stroke="#1f3347" stroke-width="0.6"/>
<rect x="318.3" y="123.43" width="1.70" height="2.6" fill="#f4bd85" stroke="#4f3312" stroke-width="0.6"/>
<circle cx="410.8" cy="123.43" r="1.45" fill="#6189a6" stroke="#283c4e" stroke-width="0.45"/>
<text x="457.20" y="124.83" font-size="4.25" text-anchor="start" fill="#222" color="#222" font-weight="normal" >&lt;1e-15</text>
<text x="316.70" y="131.85" font-size="4.25" text-anchor="end" fill="#222" color="#222" font-weight="normal" >Drug resistance: Antimicrobial</text>
<rect x="318.00" y="127.55" width="1.16" height="5.6" fill="#333"/>
<circle cx="407.8" cy="130.45" r="1.45" fill="#e3a162" stroke="#6e4418" stroke-width="0.45"/>
<text x="457.20" y="131.85" font-size="4.25" text-anchor="start" fill="#222" color="#222" font-weight="normal" >&lt;1e-15</text>
<text x="316.70" y="138.87" font-size="4.25" text-anchor="end" fill="#222" color="#222" font-weight="normal" >Metabolism of terpenoids and polyketides</text>
<rect x="318.00" y="134.57" width="1.16" height="5.6" fill="#333"/>
<circle cx="415.9" cy="137.47" r="1.45" fill="#6189a6" stroke="#283c4e" stroke-width="0.45"/>
<text x="457.20" y="138.87" font-size="4.25" text-anchor="start" fill="#222" color="#222" font-weight="normal" >&lt;1e-15</text>
<text x="316.70" y="145.89" font-size="4.25" text-anchor="end" fill="#222" color="#222" font-weight="normal" >Cell motility</text>
<rect x="318.00" y="141.59" width="1.10" height="5.6" fill="#333"/>
<circle cx="395.6" cy="144.49" r="1.45" fill="#e3a162" stroke="#6e4418" stroke-width="0.45"/>
<text x="457.20" y="145.89" font-size="4.25" text-anchor="start" fill="#222" color="#222" font-weight="normal" >&lt;1e-15</text>
<text x="316.70" y="152.91" font-size="4.25" text-anchor="end" fill="#222" color="#222" font-weight="normal" >Biosynthesis of other secondary metabolites</text>
<rect x="318.00" y="148.61" width="1.10" height="5.6" fill="#333"/>
<circle cx="409.3" cy="151.51" r="1.45" fill="#e3a162" stroke="#6e4418" stroke-width="0.45"/>
<text x="457.20" y="152.91" font-size="4.25" text-anchor="start" fill="#222" color="#222" font-weight="normal" >&lt;1e-15</text>
<text x="316.70" y="159.93" font-size="4.25" text-anchor="end" fill="#222" color="#222" font-weight="normal" >Infectious diseases: Bacterial</text>
<rect x="318.00" y="155.63" width="1.01" height="5.6" fill="#333"/>
<circle cx="408.3" cy="158.53" r="1.45" fill="#e3a162" stroke="#6e4418" stroke-width="0.45"/>
<text x="457.20" y="159.93" font-size="4.25" text-anchor="start" fill="#222" color="#222" font-weight="normal" >&lt;1e-15</text>
<text x="316.70" y="166.95" font-size="4.25" text-anchor="end" fill="#222" color="#222" font-weight="normal" >Cancers: Overview</text>
<rect x="318.00" y="162.65" width="1.01" height="5.6" fill="#333"/>
<circle cx="409.3" cy="165.55" r="1.45" fill="#e3a162" stroke="#6e4418" stroke-width="0.45"/>
<text x="457.20" y="166.95" font-size="4.25" text-anchor="start" fill="#222" color="#222" font-weight="normal" >&lt;1e-15</text>
<text x="316.70" y="173.97" font-size="4.25" text-anchor="end" fill="#222" color="#222" font-weight="normal" >Endocrine system</text>
<rect x="318.00" y="169.67" width="1.01" height="5.6" fill="#333"/>
<circle cx="409.3" cy="172.57" r="1.45" fill="#6189a6" stroke="#283c4e" stroke-width="0.45"/>
<text x="457.20" y="173.97" font-size="4.25" text-anchor="start" fill="#222" color="#222" font-weight="normal" >&lt;1e-15</text>
<text x="316.70" y="180.99" font-size="4.25" text-anchor="end" fill="#222" color="#222" font-weight="normal" >Aging</text>
<rect x="318.00" y="176.69" width="1.01" height="5.6" fill="#333"/>
<circle cx="408.3" cy="179.59" r="1.45" fill="#e3a162" stroke="#6e4418" stroke-width="0.45"/>
<text x="457.20" y="180.99" font-size="4.25" text-anchor="start" fill="#222" color="#222" font-weight="normal" >&lt;1e-15</text>
<text x="316.70" y="188.01" font-size="4.25" text-anchor="end" fill="#222" color="#222" font-weight="normal" >Cell growth and death</text>
<rect x="318.00" y="183.71" width="1.01" height="5.6" fill="#333"/>
<circle cx="410.3" cy="186.61" r="1.45" fill="#6189a6" stroke="#283c4e" stroke-width="0.45"/>
<text x="457.20" y="188.01" font-size="4.25" text-anchor="start" fill="#222" color="#222" font-weight="normal" >&lt;1e-15</text>
<text x="316.70" y="195.03" font-size="4.25" text-anchor="end" fill="#222" color="#222" font-weight="normal" >Neurodegenerative diseases</text>
<rect x="318.00" y="190.73" width="1.01" height="5.6" fill="#333"/>
<circle cx="408.3" cy="193.63" r="1.45" fill="#e3a162" stroke="#6e4418" stroke-width="0.45"/>
<text x="457.20" y="195.03" font-size="4.25" text-anchor="start" fill="#222" color="#222" font-weight="normal" >&lt;1e-15</text>
<text x="316.70" y="202.05" font-size="4.25" text-anchor="end" fill="#222" color="#222" font-weight="normal" >Transport and catabolism</text>
<rect x="318.00" y="197.75" width="1.01" height="5.6" fill="#333"/>
<circle cx="408.3" cy="200.65" r="1.45" fill="#e3a162" stroke="#6e4418" stroke-width="0.45"/>
<text x="457.20" y="202.05" font-size="4.25" text-anchor="start" fill="#222" color="#222" font-weight="normal" >&lt;1e-15</text>
<text x="316.70" y="209.07" font-size="4.25" text-anchor="end" fill="#222" color="#222" font-weight="normal" >Environmental adaptation</text>
<rect x="318.00" y="204.77" width="1.01" height="5.6" fill="#333"/>
<circle cx="408.3" cy="207.67" r="1.45" fill="#e3a162" stroke="#6e4418" stroke-width="0.45"/>
<text x="457.20" y="209.07" font-size="4.25" text-anchor="start" fill="#222" color="#222" font-weight="normal" >&lt;1e-15</text>
<text x="316.70" y="216.09" font-size="4.25" text-anchor="end" fill="#222" color="#222" font-weight="normal" >Endocrine and metabolic diseases</text>
<rect x="318.00" y="211.79" width="1.01" height="5.6" fill="#333"/>
<circle cx="408.3" cy="214.69" r="1.45" fill="#e3a162" stroke="#6e4418" stroke-width="0.45"/>
<text x="457.20" y="216.09" font-size="4.25" text-anchor="start" fill="#222" color="#222" font-weight="normal" >&lt;1e-15</text>
<text x="316.70" y="223.11" font-size="4.25" text-anchor="end" fill="#222" color="#222" font-weight="normal" >Carbohydrate metabolism</text>
<rect x="318.3" y="219.11" width="15.50" height="2.6" fill="#6b97bc" stroke="#1f3347" stroke-width="0.6"/>
<rect x="318.3" y="221.71" width="11.70" height="2.6" fill="#f4bd85" stroke="#4f3312" stroke-width="0.6"/>
<circle cx="448.2" cy="221.71" r="1.45" fill="#6189a6" stroke="#283c4e" stroke-width="0.45"/>
<text x="457.20" y="223.11" font-size="4.25" text-anchor="start" fill="#222" color="#222" font-weight="normal" >&lt;1e-15</text>
<text x="316.70" y="230.13" font-size="4.25" text-anchor="end" fill="#222" color="#222" font-weight="normal" >Global and overview maps</text>
<rect x="318.3" y="226.13" width="44.70" height="2.6" fill="#6b97bc" stroke="#1f3347" stroke-width="0.6"/>
<rect x="318.3" y="228.73" width="46.70" height="2.6" fill="#f4bd85" stroke="#4f3312" stroke-width="0.6"/>
<circle cx="382.8" cy="228.73" r="1.45" fill="#e3a162" stroke="#6e4418" stroke-width="0.45"/>
<text x="457.20" y="230.13" font-size="4.25" text-anchor="start" fill="#222" color="#222" font-weight="normal" >&lt;1e-15</text>
<line x1="318.3" y1="233.2" x2="367.2" y2="233.2" stroke="#777" stroke-width="0.5"/>
<line x1="318.3" y1="233.2" x2="318.3" y2="232.2" stroke="#777" stroke-width="0.5"/>
<line x1="365.7" y1="233.2" x2="365.7" y2="232.2" stroke="#777" stroke-width="0.5"/>
<text x="318.70" y="238.90" font-size="4.25" text-anchor="middle" fill="#222" color="#222" font-weight="normal" >0.0</text>
<text x="365.20" y="238.90" font-size="4.25" text-anchor="middle" fill="#222" color="#222" font-weight="normal" >40.1</text>
<line x1="371.2" y1="233.2" x2="455.3" y2="233.2" stroke="#777" stroke-width="0.5"/>
<line x1="382.80" y1="233.2" x2="382.80" y2="232.2" stroke="#777" stroke-width="0.5"/>
<text x="382.80" y="238.90" font-size="4.25" text-anchor="middle" fill="#222" color="#222" font-weight="normal" >−2</text>
<line x1="396.10" y1="233.2" x2="396.10" y2="232.2" stroke="#777" stroke-width="0.5"/>
<text x="396.10" y="238.90" font-size="4.25" text-anchor="middle" fill="#222" color="#222" font-weight="normal" >−1</text>
<line x1="409.40" y1="233.2" x2="409.40" y2="232.2" stroke="#777" stroke-width="0.5"/>
<text x="409.40" y="238.90" font-size="4.25" text-anchor="middle" fill="#222" color="#222" font-weight="normal" >0</text>
<line x1="422.70" y1="233.2" x2="422.70" y2="232.2" stroke="#777" stroke-width="0.5"/>
<text x="422.70" y="238.90" font-size="4.25" text-anchor="middle" fill="#222" color="#222" font-weight="normal" >1</text>
<line x1="436.00" y1="233.2" x2="436.00" y2="232.2" stroke="#777" stroke-width="0.5"/>
<text x="436.00" y="238.90" font-size="4.25" text-anchor="middle" fill="#222" color="#222" font-weight="normal" >2</text>
<line x1="449.30" y1="233.2" x2="449.30" y2="232.2" stroke="#777" stroke-width="0.5"/>
<text x="449.30" y="238.90" font-size="4.25" text-anchor="middle" fill="#222" color="#222" font-weight="normal" >3</text>
<text x="342.75" y="245.00" font-size="4.25" text-anchor="middle" fill="#222" color="#222" font-weight="normal" >Proportion (%)</text>
<text x="413.25" y="245.00" font-size="4.25" text-anchor="middle" fill="#222" color="#222" font-weight="normal" >Difference between proportions (%)</text>
<text x="413.25" y="16.90" font-size="4.25" text-anchor="middle" fill="#222" color="#222" font-weight="normal" >95% confidence intervals</text>
<rect x="245.39999999999998" y="16.3" width="8.8" height="3.3" rx="0.5" fill="#e9aa74" stroke="#8b5a2b" stroke-width="0.5"/>
<text x="257.20" y="19.60" font-size="4.8" text-anchor="start" fill="#222" color="#222" font-weight="normal" >AF</text>
<rect x="271.4" y="16.3" width="8.8" height="3.3" rx="0.5" fill="#7f9db8" stroke="#3b5670" stroke-width="0.5"/>
<text x="283.70" y="19.60" font-size="4.8" text-anchor="start" fill="#222" color="#222" font-weight="normal" >D</text>
<text x="0" y="0" font-size="4.25" text-anchor="middle" fill="#222" color="#222" transform="translate(475.6,126.6) rotate(-90)">p-value (corrected)</text>
<rect x="32.10" y="290.25" width="11.77" height="6.70" fill="#114882"/>
<rect x="43.27" y="290.25" width="11.77" height="6.70" fill="#e58268"/>
<rect x="54.44" y="290.25" width="11.77" height="6.70" fill="#bb2a34"/>
<rect x="65.61" y="290.25" width="11.77" height="6.70" fill="#f4a582"/>
<rect x="76.78" y="290.25" width="11.77" height="6.70" fill="#c43c3c"/>
<rect x="87.95" y="290.25" width="11.77" height="6.70" fill="#bb2a34"/>
<rect x="99.12" y="290.25" width="11.77" height="6.70" fill="#d6604d"/>
<rect x="110.29" y="290.25" width="11.77" height="6.70" fill="#cd4e44"/>
<rect x="121.46" y="290.25" width="11.77" height="6.70" fill="#d6604d"/>
<rect x="132.63" y="290.25" width="11.77" height="6.70" fill="#d6604d"/>
<rect x="143.80" y="290.25" width="11.77" height="6.70" fill="#d6604d"/>
<rect x="154.97" y="290.25" width="11.77" height="6.70" fill="#d6604d"/>
<rect x="166.14" y="290.25" width="11.77" height="6.70" fill="#d6604d"/>
<rect x="177.31" y="290.25" width="11.77" height="6.70" fill="#d6604d"/>
<rect x="188.48" y="290.25" width="11.77" height="6.70" fill="#d6604d"/>
<rect x="199.65" y="290.25" width="11.77" height="6.70" fill="#e58268"/>
<rect x="210.82" y="290.25" width="11.77" height="6.70" fill="#de715a"/>
<rect x="221.99" y="290.25" width="11.77" height="6.70" fill="#de715a"/>
<rect x="233.16" y="290.25" width="11.77" height="6.70" fill="#de715a"/>
<rect x="244.33" y="290.25" width="11.77" height="6.70" fill="#de715a"/>
<rect x="255.50" y="290.25" width="11.77" height="6.70" fill="#d6604d"/>
<rect x="266.67" y="290.25" width="11.77" height="6.70" fill="#8c0c25"/>
<rect x="277.84" y="290.25" width="11.77" height="6.70" fill="#8c0c25"/>
<rect x="289.01" y="290.25" width="11.77" height="6.70" fill="#8c0c25"/>
<rect x="300.18" y="290.25" width="11.77" height="6.70" fill="#cd4e44"/>
<rect x="311.35" y="290.25" width="11.77" height="6.70" fill="#b2182b"/>
<rect x="322.52" y="290.25" width="11.77" height="6.70" fill="#b2182b"/>
<rect x="333.69" y="290.25" width="11.77" height="6.70" fill="#b2182b"/>
<rect x="344.86" y="290.25" width="11.77" height="6.70" fill="#c43c3c"/>
<rect x="356.03" y="290.25" width="11.17" height="6.70" fill="#9f1228"/>
<rect x="32.10" y="296.35" width="11.77" height="6.70" fill="#114882"/>
<rect x="43.27" y="296.35" width="11.77" height="6.70" fill="#f6b293"/>
<rect x="54.44" y="296.35" width="11.77" height="6.70" fill="#b2182b"/>
<rect x="65.61" y="296.35" width="11.77" height="6.70" fill="#f4a582"/>
<rect x="76.78" y="296.35" width="11.77" height="6.70" fill="#bb2a34"/>
<rect x="87.95" y="296.35" width="11.77" height="6.70" fill="#b2182b"/>
<rect x="99.12" y="296.35" width="11.77" height="6.70" fill="#d6604d"/>
<rect x="110.29" y="296.35" width="11.77" height="6.70" fill="#cd4e44"/>
<rect x="121.46" y="296.35" width="11.77" height="6.70" fill="#d6604d"/>
<rect x="132.63" y="296.35" width="11.77" height="6.70" fill="#c43c3c"/>
<rect x="143.80" y="296.35" width="11.77" height="6.70" fill="#d6604d"/>
<rect x="154.97" y="296.35" width="11.77" height="6.70" fill="#cd4e44"/>
<rect x="166.14" y="296.35" width="11.77" height="6.70" fill="#d6604d"/>
<rect x="177.31" y="296.35" width="11.77" height="6.70" fill="#d6604d"/>
<rect x="188.48" y="296.35" width="11.77" height="6.70" fill="#d6604d"/>
<rect x="199.65" y="296.35" width="11.77" height="6.70" fill="#e58268"/>
<rect x="210.82" y="296.35" width="11.77" height="6.70" fill="#de715a"/>
<rect x="221.99" y="296.35" width="11.77" height="6.70" fill="#de715a"/>
<rect x="233.16" y="296.35" width="11.77" height="6.70" fill="#de715a"/>
<rect x="244.33" y="296.35" width="11.77" height="6.70" fill="#de715a"/>
<rect x="255.50" y="296.35" width="11.77" height="6.70" fill="#d6604d"/>
<rect x="266.67" y="296.35" width="11.77" height="6.70" fill="#8c0c25"/>
<rect x="277.84" y="296.35" width="11.77" height="6.70" fill="#8c0c25"/>
<rect x="289.01" y="296.35" width="11.77" height="6.70" fill="#8c0c25"/>
<rect x="300.18" y="296.35" width="11.77" height="6.70" fill="#d6604d"/>
<rect x="311.35" y="296.35" width="11.77" height="6.70" fill="#b2182b"/>
<rect x="322.52" y="296.35" width="11.77" height="6.70" fill="#b2182b"/>
<rect x="333.69" y="296.35" width="11.77" height="6.70" fill="#b2182b"/>
<rect x="344.86" y="296.35" width="11.77" height="6.70" fill="#c43c3c"/>
<rect x="356.03" y="296.35" width="11.17" height="6.70" fill="#9f1228"/>
<rect x="32.10" y="302.45" width="11.77" height="6.70" fill="#114882"/>
<rect x="43.27" y="302.45" width="11.77" height="6.70" fill="#f4a582"/>
<rect x="54.44" y="302.45" width="11.77" height="6.70" fill="#b2182b"/>
<rect x="65.61" y="302.45" width="11.77" height="6.70" fill="#f4a582"/>
<rect x="76.78" y="302.45" width="11.77" height="6.70" fill="#bb2a34"/>
<rect x="87.95" y="302.45" width="11.77" height="6.70" fill="#b2182b"/>
<rect x="99.12" y="302.45" width="11.77" height="6.70" fill="#d6604d"/>
<rect x="110.29" y="302.45" width="11.77" height="6.70" fill="#cd4e44"/>
<rect x="121.46" y="302.45" width="11.77" height="6.70" fill="#d6604d"/>
<rect x="132.63" y="302.45" width="11.77" height="6.70" fill="#c43c3c"/>
<rect x="143.80" y="302.45" width="11.77" height="6.70" fill="#d6604d"/>
<rect x="154.97" y="302.45" width="11.77" height="6.70" fill="#cd4e44"/>
<rect x="166.14" y="302.45" width="11.77" height="6.70" fill="#d6604d"/>
<rect x="177.31" y="302.45" width="11.77" height="6.70" fill="#d6604d"/>
<rect x="188.48" y="302.45" width="11.77" height="6.70" fill="#d6604d"/>
<rect x="199.65" y="302.45" width="11.77" height="6.70" fill="#e58268"/>
<rect x="210.82" y="302.45" width="11.77" height="6.70" fill="#de715a"/>
<rect x="221.99" y="302.45" width="11.77" height="6.70" fill="#de715a"/>
<rect x="233.16" y="302.45" width="11.77" height="6.70" fill="#de715a"/>
<rect x="244.33" y="302.45" width="11.77" height="6.70" fill="#de715a"/>
<rect x="255.50" y="302.45" width="11.77" height="6.70" fill="#d6604d"/>
<rect x="266.67" y="302.45" width="11.77" height="6.70" fill="#8c0c25"/>
<rect x="277.84" y="302.45" width="11.77" height="6.70" fill="#8c0c25"/>
<rect x="289.01" y="302.45" width="11.77" height="6.70" fill="#8c0c25"/>
<rect x="300.18" y="302.45" width="11.77" height="6.70" fill="#d6604d"/>
<rect x="311.35" y="302.45" width="11.77" height="6.70" fill="#b2182b"/>
<rect x="322.52" y="302.45" width="11.77" height="6.70" fill="#b2182b"/>
<rect x="333.69" y="302.45" width="11.77" height="6.70" fill="#b2182b"/>
<rect x="344.86" y="302.45" width="11.77" height="6.70" fill="#c43c3c"/>
<rect x="356.03" y="302.45" width="11.17" height="6.70" fill="#9f1228"/>
<rect x="32.10" y="308.55" width="11.77" height="6.70" fill="#08376a"/>
<rect x="43.27" y="308.55" width="11.77" height="6.70" fill="#a2cde2"/>
<rect x="54.44" y="308.55" width="11.77" height="6.70" fill="#b2182b"/>
<rect x="65.61" y="308.55" width="11.77" height="6.70" fill="#c43c3c"/>
<rect x="76.78" y="308.55" width="11.77" height="6.70" fill="#9f1228"/>
<rect x="87.95" y="308.55" width="11.77" height="6.70" fill="#8c0c25"/>
<rect x="99.12" y="308.55" width="11.77" height="6.70" fill="#b2182b"/>
<rect x="110.29" y="308.55" width="11.77" height="6.70" fill="#b2182b"/>
<rect x="121.46" y="308.55" width="11.77" height="6.70" fill="#b2182b"/>
<rect x="132.63" y="308.55" width="11.77" height="6.70" fill="#b2182b"/>
<rect x="143.80" y="308.55" width="11.77" height="6.70" fill="#b2182b"/>
<rect x="154.97" y="308.55" width="11.77" height="6.70" fill="#b2182b"/>
<rect x="166.14" y="308.55" width="11.77" height="6.70" fill="#b2182b"/>
<rect x="177.31" y="308.55" width="11.77" height="6.70" fill="#b2182b"/>
<rect x="188.48" y="308.55" width="11.77" height="6.70" fill="#b2182b"/>
<rect x="199.65" y="308.55" width="11.77" height="6.70" fill="#bb2a34"/>
<rect x="210.82" y="308.55" width="11.77" height="6.70" fill="#bb2a34"/>
<rect x="221.99" y="308.55" width="11.77" height="6.70" fill="#bb2a34"/>
<rect x="233.16" y="308.55" width="11.77" height="6.70" fill="#bb2a34"/>
<rect x="244.33" y="308.55" width="11.77" height="6.70" fill="#e58268"/>
<rect x="255.50" y="308.55" width="11.77" height="6.70" fill="#e58268"/>
<rect x="266.67" y="308.55" width="11.77" height="6.70" fill="#9f1228"/>
<rect x="277.84" y="308.55" width="11.77" height="6.70" fill="#9f1228"/>
<rect x="289.01" y="308.55" width="11.77" height="6.70" fill="#c43c3c"/>
<rect x="300.18" y="308.55" width="11.77" height="6.70" fill="#f4a582"/>
<rect x="311.35" y="308.55" width="11.77" height="6.70" fill="#f4a582"/>
<rect x="322.52" y="308.55" width="11.77" height="6.70" fill="#f6b293"/>
<rect x="333.69" y="308.55" width="11.77" height="6.70" fill="#f8c0a4"/>
<rect x="344.86" y="308.55" width="11.77" height="6.70" fill="#f4a582"/>
<rect x="356.03" y="308.55" width="11.17" height="6.70" fill="#ec9475"/>
<rect x="32.10" y="314.65" width="11.77" height="6.70" fill="#114882"/>
<rect x="43.27" y="314.65" width="11.77" height="6.70" fill="#f6e3d8"/>
<rect x="54.44" y="314.65" width="11.77" height="6.70" fill="#b2182b"/>
<rect x="65.61" y="314.65" width="11.77" height="6.70" fill="#c43c3c"/>
<rect x="76.78" y="314.65" width="11.77" height="6.70" fill="#b2182b"/>
<rect x="87.95" y="314.65" width="11.77" height="6.70" fill="#b2182b"/>
<rect x="99.12" y="314.65" width="11.77" height="6.70" fill="#cd4e44"/>
<rect x="110.29" y="314.65" width="11.77" height="6.70" fill="#b2182b"/>
<rect x="121.46" y="314.65" width="11.77" height="6.70" fill="#b2182b"/>
<rect x="132.63" y="314.65" width="11.77" height="6.70" fill="#b2182b"/>
<rect x="143.80" y="314.65" width="11.77" height="6.70" fill="#b2182b"/>
<rect x="154.97" y="314.65" width="11.77" height="6.70" fill="#b2182b"/>
<rect x="166.14" y="314.65" width="11.77" height="6.70" fill="#b2182b"/>
<rect x="177.31" y="314.65" width="11.77" height="6.70" fill="#b2182b"/>
<rect x="188.48" y="314.65" width="11.77" height="6.70" fill="#b2182b"/>
<rect x="199.65" y="314.65" width="11.77" height="6.70" fill="#c43c3c"/>
<rect x="210.82" y="314.65" width="11.77" height="6.70" fill="#bb2a34"/>
<rect x="221.99" y="314.65" width="11.77" height="6.70" fill="#bb2a34"/>
<rect x="233.16" y="314.65" width="11.77" height="6.70" fill="#bb2a34"/>
<rect x="244.33" y="314.65" width="11.77" height="6.70" fill="#fbceb6"/>
<rect x="255.50" y="314.65" width="11.77" height="6.70" fill="#fbceb6"/>
<rect x="266.67" y="314.65" width="11.77" height="6.70" fill="#9f1228"/>
<rect x="277.84" y="314.65" width="11.77" height="6.70" fill="#9f1228"/>
<rect x="289.01" y="314.65" width="11.77" height="6.70" fill="#9f1228"/>
<rect x="300.18" y="314.65" width="11.77" height="6.70" fill="#e58268"/>
<rect x="311.35" y="314.65" width="11.77" height="6.70" fill="#de715a"/>
<rect x="322.52" y="314.65" width="11.77" height="6.70" fill="#ec9475"/>
<rect x="333.69" y="314.65" width="11.77" height="6.70" fill="#de715a"/>
<rect x="344.86" y="314.65" width="11.77" height="6.70" fill="#ec9475"/>
<rect x="356.03" y="314.65" width="11.17" height="6.70" fill="#c43c3c"/>
<rect x="32.10" y="320.75" width="11.77" height="6.70" fill="#114882"/>
<rect x="43.27" y="320.75" width="11.77" height="6.70" fill="#f6e3d8"/>
<rect x="54.44" y="320.75" width="11.77" height="6.70" fill="#b2182b"/>
<rect x="65.61" y="320.75" width="11.77" height="6.70" fill="#c43c3c"/>
<rect x="76.78" y="320.75" width="11.77" height="6.70" fill="#b2182b"/>
<rect x="87.95" y="320.75" width="11.77" height="6.70" fill="#b2182b"/>
<rect x="99.12" y="320.75" width="11.77" height="6.70" fill="#cd4e44"/>
<rect x="110.29" y="320.75" width="11.77" height="6.70" fill="#b2182b"/>
<rect x="121.46" y="320.75" width="11.77" height="6.70" fill="#cd4e44"/>
<rect x="132.63" y="320.75" width="11.77" height="6.70" fill="#b2182b"/>
<rect x="143.80" y="320.75" width="11.77" height="6.70" fill="#c43c3c"/>
<rect x="154.97" y="320.75" width="11.77" height="6.70" fill="#b2182b"/>
<rect x="166.14" y="320.75" width="11.77" height="6.70" fill="#b2182b"/>
<rect x="177.31" y="320.75" width="11.77" height="6.70" fill="#b2182b"/>
<rect x="188.48" y="320.75" width="11.77" height="6.70" fill="#b2182b"/>
<rect x="199.65" y="320.75" width="11.77" height="6.70" fill="#c43c3c"/>
<rect x="210.82" y="320.75" width="11.77" height="6.70" fill="#c43c3c"/>
<rect x="221.99" y="320.75" width="11.77" height="6.70" fill="#c43c3c"/>
<rect x="233.16" y="320.75" width="11.77" height="6.70" fill="#bb2a34"/>
<rect x="244.33" y="320.75" width="11.77" height="6.70" fill="#f6b293"/>
<rect x="255.50" y="320.75" width="11.77" height="6.70" fill="#fddbc7"/>
<rect x="266.67" y="320.75" width="11.77" height="6.70" fill="#9f1228"/>
<rect x="277.84" y="320.75" width="11.77" height="6.70" fill="#9f1228"/>
<rect x="289.01" y="320.75" width="11.77" height="6.70" fill="#9f1228"/>
<rect x="300.18" y="320.75" width="11.77" height="6.70" fill="#e58268"/>
<rect x="311.35" y="320.75" width="11.77" height="6.70" fill="#de715a"/>
<rect x="322.52" y="320.75" width="11.77" height="6.70" fill="#de715a"/>
<rect x="333.69" y="320.75" width="11.77" height="6.70" fill="#d6604d"/>
<rect x="344.86" y="320.75" width="11.77" height="6.70" fill="#d6604d"/>
<rect x="356.03" y="320.75" width="11.17" height="6.70" fill="#bb2a34"/>
<rect x="32.10" y="326.85" width="11.77" height="6.70" fill="#114882"/>
<rect x="43.27" y="326.85" width="11.77" height="6.70" fill="#fadfd0"/>
<rect x="54.44" y="326.85" width="11.77" height="6.70" fill="#b2182b"/>
<rect x="65.61" y="326.85" width="11.77" height="6.70" fill="#cd4e44"/>
<rect x="76.78" y="326.85" width="11.77" height="6.70" fill="#b2182b"/>
<rect x="87.95" y="326.85" width="11.77" height="6.70" fill="#b2182b"/>
<rect x="99.12" y="326.85" width="11.77" height="6.70" fill="#cd4e44"/>
<rect x="110.29" y="326.85" width="11.77" height="6.70" fill="#b2182b"/>
<rect x="121.46" y="326.85" width="11.77" height="6.70" fill="#cd4e44"/>
<rect x="132.63" y="326.85" width="11.77" height="6.70" fill="#b2182b"/>
<rect x="143.80" y="326.85" width="11.77" height="6.70" fill="#c43c3c"/>
<rect x="154.97" y="326.85" width="11.77" height="6.70" fill="#b2182b"/>
<rect x="166.14" y="326.85" width="11.77" height="6.70" fill="#b2182b"/>
<rect x="177.31" y="326.85" width="11.77" height="6.70" fill="#b2182b"/>
<rect x="188.48" y="326.85" width="11.77" height="6.70" fill="#b2182b"/>
<rect x="199.65" y="326.85" width="11.77" height="6.70" fill="#c43c3c"/>
<rect x="210.82" y="326.85" width="11.77" height="6.70" fill="#c43c3c"/>
<rect x="221.99" y="326.85" width="11.77" height="6.70" fill="#c43c3c"/>
<rect x="233.16" y="326.85" width="11.77" height="6.70" fill="#bb2a34"/>
<rect x="244.33" y="326.85" width="11.77" height="6.70" fill="#f6b293"/>
<rect x="255.50" y="326.85" width="11.77" height="6.70" fill="#fddbc7"/>
<rect x="266.67" y="326.85" width="11.77" height="6.70" fill="#9f1228"/>
<rect x="277.84" y="326.85" width="11.77" height="6.70" fill="#9f1228"/>
<rect x="289.01" y="326.85" width="11.77" height="6.70" fill="#9f1228"/>
<rect x="300.18" y="326.85" width="11.77" height="6.70" fill="#e58268"/>
<rect x="311.35" y="326.85" width="11.77" height="6.70" fill="#de715a"/>
<rect x="322.52" y="326.85" width="11.77" height="6.70" fill="#de715a"/>
<rect x="333.69" y="326.85" width="11.77" height="6.70" fill="#d6604d"/>
<rect x="344.86" y="326.85" width="11.77" height="6.70" fill="#de715a"/>
<rect x="356.03" y="326.85" width="11.17" height="6.70" fill="#bb2a34"/>
<rect x="32.10" y="332.95" width="11.77" height="6.70" fill="#f6b293"/>
<rect x="43.27" y="332.95" width="11.77" height="6.70" fill="#9f1228"/>
<rect x="54.44" y="332.95" width="11.77" height="6.70" fill="#c4dfec"/>
<rect x="65.61" y="332.95" width="11.77" height="6.70" fill="#327db8"/>
<rect x="76.78" y="332.95" width="11.77" height="6.70" fill="#8ac0db"/>
<rect x="87.95" y="332.95" width="11.77" height="6.70" fill="#8ac0db"/>
<rect x="99.12" y="332.95" width="11.77" height="6.70" fill="#72b1d3"/>
<rect x="110.29" y="332.95" width="11.77" height="6.70" fill="#9fcbe2"/>
<rect x="121.46" y="332.95" width="11.77" height="6.70" fill="#8ac0db"/>
<rect x="132.63" y="332.95" width="11.77" height="6.70" fill="#9fcbe2"/>
<rect x="143.80" y="332.95" width="11.77" height="6.70" fill="#8ac0db"/>
<rect x="154.97" y="332.95" width="11.77" height="6.70" fill="#8ac0db"/>
<rect x="166.14" y="332.95" width="11.77" height="6.70" fill="#72b1d3"/>
<rect x="177.31" y="332.95" width="11.77" height="6.70" fill="#72b1d3"/>
<rect x="188.48" y="332.95" width="11.77" height="6.70" fill="#72b1d3"/>
<rect x="199.65" y="332.95" width="11.77" height="6.70" fill="#8ac0db"/>
<rect x="210.82" y="332.95" width="11.77" height="6.70" fill="#8ac0db"/>
<rect x="221.99" y="332.95" width="11.77" height="6.70" fill="#8ac0db"/>
<rect x="233.16" y="332.95" width="11.77" height="6.70" fill="#72b1d3"/>
<rect x="244.33" y="332.95" width="11.77" height="6.70" fill="#fbceb6"/>
<rect x="255.50" y="332.95" width="11.77" height="6.70" fill="#de715a"/>
<rect x="266.67" y="332.95" width="11.77" height="6.70" fill="#ec9475"/>
<rect x="277.84" y="332.95" width="11.77" height="6.70" fill="#ec9475"/>
<rect x="289.01" y="332.95" width="11.77" height="6.70" fill="#e58268"/>
<rect x="300.18" y="332.95" width="11.77" height="6.70" fill="#bb2a34"/>
<rect x="311.35" y="332.95" width="11.77" height="6.70" fill="#bb2a34"/>
<rect x="322.52" y="332.95" width="11.77" height="6.70" fill="#b2182b"/>
<rect x="333.69" y="332.95" width="11.77" height="6.70" fill="#b2182b"/>
<rect x="344.86" y="332.95" width="11.77" height="6.70" fill="#f4a582"/>
<rect x="356.03" y="332.95" width="11.17" height="6.70" fill="#f4a582"/>
<rect x="32.10" y="339.05" width="11.77" height="6.70" fill="#ec9475"/>
<rect x="43.27" y="339.05" width="11.77" height="6.70" fill="#8c0c25"/>
<rect x="54.44" y="339.05" width="11.77" height="6.70" fill="#7eb8d7"/>
<rect x="65.61" y="339.05" width="11.77" height="6.70" fill="#347fb9"/>
<rect x="76.78" y="339.05" width="11.77" height="6.70" fill="#4a97c5"/>
<rect x="87.95" y="339.05" width="11.77" height="6.70" fill="#4a97c5"/>
<rect x="99.12" y="339.05" width="11.77" height="6.70" fill="#347fb9"/>
<rect x="110.29" y="339.05" width="11.77" height="6.70" fill="#3d8bbf"/>
<rect x="121.46" y="339.05" width="11.77" height="6.70" fill="#3d8bbf"/>
<rect x="132.63" y="339.05" width="11.77" height="6.70" fill="#347fb9"/>
<rect x="143.80" y="339.05" width="11.77" height="6.70" fill="#347fb9"/>
<rect x="154.97" y="339.05" width="11.77" height="6.70" fill="#2b73b3"/>
<rect x="166.14" y="339.05" width="11.77" height="6.70" fill="#2b73b3"/>
<rect x="177.31" y="339.05" width="11.77" height="6.70" fill="#2b73b3"/>
<rect x="188.48" y="339.05" width="11.77" height="6.70" fill="#2b73b3"/>
<rect x="199.65" y="339.05" width="11.77" height="6.70" fill="#2b73b3"/>
<rect x="210.82" y="339.05" width="11.77" height="6.70" fill="#2b73b3"/>
<rect x="221.99" y="339.05" width="11.77" height="6.70" fill="#2b73b3"/>
<rect x="233.16" y="339.05" width="11.77" height="6.70" fill="#2b73b3"/>
<rect x="244.33" y="339.05" width="11.77" height="6.70" fill="#f6b293"/>
<rect x="255.50" y="339.05" width="11.77" height="6.70" fill="#f6b293"/>
<rect x="266.67" y="339.05" width="11.77" height="6.70" fill="#f6b293"/>
<rect x="277.84" y="339.05" width="11.77" height="6.70" fill="#f4a582"/>
<rect x="289.01" y="339.05" width="11.77" height="6.70" fill="#f4a582"/>
<rect x="300.18" y="339.05" width="11.77" height="6.70" fill="#de715a"/>
<rect x="311.35" y="339.05" width="11.77" height="6.70" fill="#de715a"/>
<rect x="322.52" y="339.05" width="11.77" height="6.70" fill="#b2182b"/>
<rect x="333.69" y="339.05" width="11.77" height="6.70" fill="#b2182b"/>
<rect x="344.86" y="339.05" width="11.77" height="6.70" fill="#f4a582"/>
<rect x="356.03" y="339.05" width="11.17" height="6.70" fill="#f4a582"/>
<rect x="32.10" y="345.15" width="11.77" height="6.70" fill="#ec9475"/>
<rect x="43.27" y="345.15" width="11.77" height="6.70" fill="#8c0c25"/>
<rect x="54.44" y="345.15" width="11.77" height="6.70" fill="#7eb8d7"/>
<rect x="65.61" y="345.15" width="11.77" height="6.70" fill="#347fb9"/>
<rect x="76.78" y="345.15" width="11.77" height="6.70" fill="#3d8bbf"/>
<rect x="87.95" y="345.15" width="11.77" height="6.70" fill="#4a97c5"/>
<rect x="99.12" y="345.15" width="11.77" height="6.70" fill="#347fb9"/>
<rect x="110.29" y="345.15" width="11.77" height="6.70" fill="#3d8bbf"/>
<rect x="121.46" y="345.15" width="11.77" height="6.70" fill="#3d8bbf"/>
<rect x="132.63" y="345.15" width="11.77" height="6.70" fill="#347fb9"/>
<rect x="143.80" y="345.15" width="11.77" height="6.70" fill="#347fb9"/>
<rect x="154.97" y="345.15" width="11.77" height="6.70" fill="#2b73b3"/>
<rect x="166.14" y="345.15" width="11.77" height="6.70" fill="#347fb9"/>
<rect x="177.31" y="345.15" width="11.77" height="6.70" fill="#347fb9"/>
<rect x="188.48" y="345.15" width="11.77" height="6.70" fill="#347fb9"/>
<rect x="199.65" y="345.15" width="11.77" height="6.70" fill="#347fb9"/>
<rect x="210.82" y="345.15" width="11.77" height="6.70" fill="#347fb9"/>
<rect x="221.99" y="345.15" width="11.77" height="6.70" fill="#347fb9"/>
<rect x="233.16" y="345.15" width="11.77" height="6.70" fill="#2b73b3"/>
<rect x="244.33" y="345.15" width="11.77" height="6.70" fill="#f6b293"/>
<rect x="255.50" y="345.15" width="11.77" height="6.70" fill="#f8c0a4"/>
<rect x="266.67" y="345.15" width="11.77" height="6.70" fill="#f6b293"/>
<rect x="277.84" y="345.15" width="11.77" height="6.70" fill="#f6b293"/>
<rect x="289.01" y="345.15" width="11.77" height="6.70" fill="#f6b293"/>
<rect x="300.18" y="345.15" width="11.77" height="6.70" fill="#de715a"/>
<rect x="311.35" y="345.15" width="11.77" height="6.70" fill="#de715a"/>
<rect x="322.52" y="345.15" width="11.77" height="6.70" fill="#b2182b"/>
<rect x="333.69" y="345.15" width="11.77" height="6.70" fill="#b2182b"/>
<rect x="344.86" y="345.15" width="11.77" height="6.70" fill="#f6b293"/>
<rect x="356.03" y="345.15" width="11.17" height="6.70" fill="#f4a582"/>
<rect x="32.10" y="351.25" width="11.77" height="6.70" fill="#a2cde2"/>
<rect x="43.27" y="351.25" width="11.77" height="6.70" fill="#0b3c72"/>
<rect x="54.44" y="351.25" width="11.77" height="6.70" fill="#f4a582"/>
<rect x="65.61" y="351.25" width="11.77" height="6.70" fill="#bb2a34"/>
<rect x="76.78" y="351.25" width="11.77" height="6.70" fill="#d6604d"/>
<rect x="87.95" y="351.25" width="11.77" height="6.70" fill="#d6604d"/>
<rect x="99.12" y="351.25" width="11.77" height="6.70" fill="#c43c3c"/>
<rect x="110.29" y="351.25" width="11.77" height="6.70" fill="#c43c3c"/>
<rect x="121.46" y="351.25" width="11.77" height="6.70" fill="#c43c3c"/>
<rect x="132.63" y="351.25" width="11.77" height="6.70" fill="#c43c3c"/>
<rect x="143.80" y="351.25" width="11.77" height="6.70" fill="#c43c3c"/>
<rect x="154.97" y="351.25" width="11.77" height="6.70" fill="#c43c3c"/>
<rect x="166.14" y="351.25" width="11.77" height="6.70" fill="#c43c3c"/>
<rect x="177.31" y="351.25" width="11.77" height="6.70" fill="#c43c3c"/>
<rect x="188.48" y="351.25" width="11.77" height="6.70" fill="#c43c3c"/>
<rect x="199.65" y="351.25" width="11.77" height="6.70" fill="#bb2a34"/>
<rect x="210.82" y="351.25" width="11.77" height="6.70" fill="#c43c3c"/>
<rect x="221.99" y="351.25" width="11.77" height="6.70" fill="#c43c3c"/>
<rect x="233.16" y="351.25" width="11.77" height="6.70" fill="#c43c3c"/>
<rect x="244.33" y="351.25" width="11.77" height="6.70" fill="#a2cde2"/>
<rect x="255.50" y="351.25" width="11.77" height="6.70" fill="#d1e5f0"/>
<rect x="266.67" y="351.25" width="11.77" height="6.70" fill="#b2d5e7"/>
<rect x="277.84" y="351.25" width="11.77" height="6.70" fill="#c1ddec"/>
<rect x="289.01" y="351.25" width="11.77" height="6.70" fill="#c1ddec"/>
<rect x="300.18" y="351.25" width="11.77" height="6.70" fill="#92c5de"/>
<rect x="311.35" y="351.25" width="11.77" height="6.70" fill="#92c5de"/>
<rect x="322.52" y="351.25" width="11.77" height="6.70" fill="#2b73b3"/>
<rect x="333.69" y="351.25" width="11.77" height="6.70" fill="#2b73b3"/>
<rect x="344.86" y="351.25" width="11.77" height="6.70" fill="#a2cde2"/>
<rect x="356.03" y="351.25" width="11.17" height="6.70" fill="#a2cde2"/>
<rect x="32.10" y="357.35" width="11.77" height="6.70" fill="#f6e3d8"/>
<rect x="43.27" y="357.35" width="11.77" height="6.70" fill="#0b3c72"/>
<rect x="54.44" y="357.35" width="11.77" height="6.70" fill="#fbceb6"/>
<rect x="65.61" y="357.35" width="11.77" height="6.70" fill="#d6604d"/>
<rect x="76.78" y="357.35" width="11.77" height="6.70" fill="#f4a582"/>
<rect x="87.95" y="357.35" width="11.77" height="6.70" fill="#f4a582"/>
<rect x="99.12" y="357.35" width="11.77" height="6.70" fill="#ec9475"/>
<rect x="110.29" y="357.35" width="11.77" height="6.70" fill="#f4a582"/>
<rect x="121.46" y="357.35" width="11.77" height="6.70" fill="#ec9475"/>
<rect x="132.63" y="357.35" width="11.77" height="6.70" fill="#ec9475"/>
<rect x="143.80" y="357.35" width="11.77" height="6.70" fill="#e58268"/>
<rect x="154.97" y="357.35" width="11.77" height="6.70" fill="#ec9475"/>
<rect x="166.14" y="357.35" width="11.77" height="6.70" fill="#ec9475"/>
<rect x="177.31" y="357.35" width="11.77" height="6.70" fill="#ec9475"/>
<rect x="188.48" y="357.35" width="11.77" height="6.70" fill="#ec9475"/>
<rect x="199.65" y="357.35" width="11.77" height="6.70" fill="#e58268"/>
<rect x="210.82" y="357.35" width="11.77" height="6.70" fill="#ec9475"/>
<rect x="221.99" y="357.35" width="11.77" height="6.70" fill="#ec9475"/>
<rect x="233.16" y="357.35" width="11.77" height="6.70" fill="#e58268"/>
<rect x="244.33" y="357.35" width="11.77" height="6.70" fill="#a2cde2"/>
<rect x="255.50" y="357.35" width="11.77" height="6.70" fill="#4a97c5"/>
<rect x="266.67" y="357.35" width="11.77" height="6.70" fill="#b2d5e7"/>
<rect x="277.84" y="357.35" width="11.77" height="6.70" fill="#7eb8d7"/>
<rect x="289.01" y="357.35" width="11.77" height="6.70" fill="#6aacd0"/>
<rect x="300.18" y="357.35" width="11.77" height="6.70" fill="#2b73b3"/>
<rect x="311.35" y="357.35" width="11.77" height="6.70" fill="#2b73b3"/>
<rect x="322.52" y="357.35" width="11.77" height="6.70" fill="#2b73b3"/>
<rect x="333.69" y="357.35" width="11.77" height="6.70" fill="#2b73b3"/>
<rect x="344.86" y="357.35" width="11.77" height="6.70" fill="#92c5de"/>
<rect x="356.03" y="357.35" width="11.17" height="6.70" fill="#92c5de"/>
<rect x="32.10" y="363.45" width="11.77" height="6.70" fill="#e8eaeb"/>
<rect x="43.27" y="363.45" width="11.77" height="6.70" fill="#0b3c72"/>
<rect x="54.44" y="363.45" width="11.77" height="6.70" fill="#f6b293"/>
<rect x="65.61" y="363.45" width="11.77" height="6.70" fill="#d6604d"/>
<rect x="76.78" y="363.45" width="11.77" height="6.70" fill="#f4a582"/>
<rect x="87.95" y="363.45" width="11.77" height="6.70" fill="#f4a582"/>
<rect x="99.12" y="363.45" width="11.77" height="6.70" fill="#ec9475"/>
<rect x="110.29" y="363.45" width="11.77" height="6.70" fill="#f4a582"/>
<rect x="121.46" y="363.45" width="11.77" height="6.70" fill="#ec9475"/>
<rect x="132.63" y="363.45" width="11.77" height="6.70" fill="#ec9475"/>
<rect x="143.80" y="363.45" width="11.77" height="6.70" fill="#e58268"/>
<rect x="154.97" y="363.45" width="11.77" height="6.70" fill="#ec9475"/>
<rect x="166.14" y="363.45" width="11.77" height="6.70" fill="#ec9475"/>
<rect x="177.31" y="363.45" width="11.77" height="6.70" fill="#ec9475"/>
<rect x="188.48" y="363.45" width="11.77" height="6.70" fill="#ec9475"/>
<rect x="199.65" y="363.45" width="11.77" height="6.70" fill="#e58268"/>
<rect x="210.82" y="363.45" width="11.77" height="6.70" fill="#ec9475"/>
<rect x="221.99" y="363.45" width="11.77" height="6.70" fill="#ec9475"/>
<rect x="233.16" y="363.45" width="11.77" height="6.70" fill="#ec9475"/>
<rect x="244.33" y="363.45" width="11.77" height="6.70" fill="#a2cde2"/>
<rect x="255.50" y="363.45" width="11.77" height="6.70" fill="#4a97c5"/>
<rect x="266.67" y="363.45" width="11.77" height="6.70" fill="#b2d5e7"/>
<rect x="277.84" y="363.45" width="11.77" height="6.70" fill="#7eb8d7"/>
<rect x="289.01" y="363.45" width="11.77" height="6.70" fill="#6aacd0"/>
<rect x="300.18" y="363.45" width="11.77" height="6.70" fill="#2b73b3"/>
<rect x="311.35" y="363.45" width="11.77" height="6.70" fill="#2b73b3"/>
<rect x="322.52" y="363.45" width="11.77" height="6.70" fill="#2b73b3"/>
<rect x="333.69" y="363.45" width="11.77" height="6.70" fill="#2b73b3"/>
<rect x="344.86" y="363.45" width="11.77" height="6.70" fill="#92c5de"/>
<rect x="356.03" y="363.45" width="11.17" height="6.70" fill="#92c5de"/>
<rect x="32.10" y="369.55" width="11.77" height="6.70" fill="#e58268"/>
<rect x="43.27" y="369.55" width="11.77" height="6.70" fill="#2267ad"/>
<rect x="54.44" y="369.55" width="11.77" height="6.70" fill="#a2cde2"/>
<rect x="65.61" y="369.55" width="11.77" height="6.70" fill="#fbceb6"/>
<rect x="76.78" y="369.55" width="11.77" height="6.70" fill="#a2cde2"/>
<rect x="87.95" y="369.55" width="11.77" height="6.70" fill="#a2cde2"/>
<rect x="99.12" y="369.55" width="11.77" height="6.70" fill="#efebe9"/>
<rect x="110.29" y="369.55" width="11.77" height="6.70" fill="#c1ddec"/>
<rect x="121.46" y="369.55" width="11.77" height="6.70" fill="#e0e8ec"/>
<rect x="132.63" y="369.55" width="11.77" height="6.70" fill="#d8e6ee"/>
<rect x="143.80" y="369.55" width="11.77" height="6.70" fill="#e8eaeb"/>
<rect x="154.97" y="369.55" width="11.77" height="6.70" fill="#e0e8ec"/>
<rect x="166.14" y="369.55" width="11.77" height="6.70" fill="#e8eaeb"/>
<rect x="177.31" y="369.55" width="11.77" height="6.70" fill="#e0e8ec"/>
<rect x="188.48" y="369.55" width="11.77" height="6.70" fill="#e0e8ec"/>
<rect x="199.65" y="369.55" width="11.77" height="6.70" fill="#f6e3d8"/>
<rect x="210.82" y="369.55" width="11.77" height="6.70" fill="#e8eaeb"/>
<rect x="221.99" y="369.55" width="11.77" height="6.70" fill="#f2e7e0"/>
<rect x="233.16" y="369.55" width="11.77" height="6.70" fill="#f2e7e0"/>
<rect x="244.33" y="369.55" width="11.77" height="6.70" fill="#92c5de"/>
<rect x="255.50" y="369.55" width="11.77" height="6.70" fill="#3d8bbf"/>
<rect x="266.67" y="369.55" width="11.77" height="6.70" fill="#3d8bbf"/>
<rect x="277.84" y="369.55" width="11.77" height="6.70" fill="#2b73b3"/>
<rect x="289.01" y="369.55" width="11.77" height="6.70" fill="#2b73b3"/>
<rect x="300.18" y="369.55" width="11.77" height="6.70" fill="#1a599a"/>
<rect x="311.35" y="369.55" width="11.77" height="6.70" fill="#1a599a"/>
<rect x="322.52" y="369.55" width="11.77" height="6.70" fill="#2b73b3"/>
<rect x="333.69" y="369.55" width="11.77" height="6.70" fill="#2b73b3"/>
<rect x="344.86" y="369.55" width="11.77" height="6.70" fill="#347fb9"/>
<rect x="356.03" y="369.55" width="11.17" height="6.70" fill="#2b73b3"/>
<rect x="32.10" y="375.65" width="11.77" height="6.70" fill="#9f1228"/>
<rect x="43.27" y="375.65" width="11.77" height="6.70" fill="#92c5de"/>
<rect x="54.44" y="375.65" width="11.77" height="6.70" fill="#2b73b3"/>
<rect x="65.61" y="375.65" width="11.77" height="6.70" fill="#7eb8d7"/>
<rect x="76.78" y="375.65" width="11.77" height="6.70" fill="#2b73b3"/>
<rect x="87.95" y="375.65" width="11.77" height="6.70" fill="#2b73b3"/>
<rect x="99.12" y="375.65" width="11.77" height="6.70" fill="#7eb8d7"/>
<rect x="110.29" y="375.65" width="11.77" height="6.70" fill="#3d8bbf"/>
<rect x="121.46" y="375.65" width="11.77" height="6.70" fill="#6aacd0"/>
<rect x="132.63" y="375.65" width="11.77" height="6.70" fill="#3d8bbf"/>
<rect x="143.80" y="375.65" width="11.77" height="6.70" fill="#6aacd0"/>
<rect x="154.97" y="375.65" width="11.77" height="6.70" fill="#4a97c5"/>
<rect x="166.14" y="375.65" width="11.77" height="6.70" fill="#6aacd0"/>
<rect x="177.31" y="375.65" width="11.77" height="6.70" fill="#6aacd0"/>
<rect x="188.48" y="375.65" width="11.77" height="6.70" fill="#6aacd0"/>
<rect x="199.65" y="375.65" width="11.77" height="6.70" fill="#92c5de"/>
<rect x="210.82" y="375.65" width="11.77" height="6.70" fill="#7eb8d7"/>
<rect x="221.99" y="375.65" width="11.77" height="6.70" fill="#92c5de"/>
<rect x="233.16" y="375.65" width="11.77" height="6.70" fill="#7eb8d7"/>
<rect x="244.33" y="375.65" width="11.77" height="6.70" fill="#7eb8d7"/>
<rect x="255.50" y="375.65" width="11.77" height="6.70" fill="#92c5de"/>
<rect x="266.67" y="375.65" width="11.77" height="6.70" fill="#0b3c72"/>
<rect x="277.84" y="375.65" width="11.77" height="6.70" fill="#053061"/>
<rect x="289.01" y="375.65" width="11.77" height="6.70" fill="#0b3c72"/>
<rect x="300.18" y="375.65" width="11.77" height="6.70" fill="#7eb8d7"/>
<rect x="311.35" y="375.65" width="11.77" height="6.70" fill="#347fb9"/>
<rect x="322.52" y="375.65" width="11.77" height="6.70" fill="#347fb9"/>
<rect x="333.69" y="375.65" width="11.77" height="6.70" fill="#347fb9"/>
<rect x="344.86" y="375.65" width="11.77" height="6.70" fill="#3d8bbf"/>
<rect x="356.03" y="375.65" width="11.17" height="6.70" fill="#2b73b3"/>
<rect x="32.10" y="381.75" width="11.77" height="6.70" fill="#8c0c25"/>
<rect x="43.27" y="381.75" width="11.77" height="6.70" fill="#f6b293"/>
<rect x="54.44" y="381.75" width="11.77" height="6.70" fill="#2b73b3"/>
<rect x="65.61" y="381.75" width="11.77" height="6.70" fill="#3d8bbf"/>
<rect x="76.78" y="381.75" width="11.77" height="6.70" fill="#2267ad"/>
<rect x="87.95" y="381.75" width="11.77" height="6.70" fill="#1a599a"/>
<rect x="99.12" y="381.75" width="11.77" height="6.70" fill="#347fb9"/>
<rect x="110.29" y="381.75" width="11.77" height="6.70" fill="#2267ad"/>
<rect x="121.46" y="381.75" width="11.77" height="6.70" fill="#2b73b3"/>
<rect x="132.63" y="381.75" width="11.77" height="6.70" fill="#1a599a"/>
<rect x="143.80" y="381.75" width="11.77" height="6.70" fill="#2267ad"/>
<rect x="154.97" y="381.75" width="11.77" height="6.70" fill="#2267ad"/>
<rect x="166.14" y="381.75" width="11.77" height="6.70" fill="#2b73b3"/>
<rect x="177.31" y="381.75" width="11.77" height="6.70" fill="#2b73b3"/>
<rect x="188.48" y="381.75" width="11.77" height="6.70" fill="#2b73b3"/>
<rect x="199.65" y="381.75" width="11.77" height="6.70" fill="#3d8bbf"/>
<rect x="210.82" y="381.75" width="11.77" height="6.70" fill="#347fb9"/>
<rect x="221.99" y="381.75" width="11.77" height="6.70" fill="#347fb9"/>
<rect x="233.16" y="381.75" width="11.77" height="6.70" fill="#347fb9"/>
<rect x="244.33" y="381.75" width="11.77" height="6.70" fill="#b2d5e7"/>
<rect x="255.50" y="381.75" width="11.77" height="6.70" fill="#e8eaeb"/>
<rect x="266.67" y="381.75" width="11.77" height="6.70" fill="#1a599a"/>
<rect x="277.84" y="381.75" width="11.77" height="6.70" fill="#134b86"/>
<rect x="289.01" y="381.75" width="11.77" height="6.70" fill="#1a599a"/>
<rect x="300.18" y="381.75" width="11.77" height="6.70" fill="#a2cde2"/>
<rect x="311.35" y="381.75" width="11.77" height="6.70" fill="#92c5de"/>
<rect x="322.52" y="381.75" width="11.77" height="6.70" fill="#92c5de"/>
<rect x="333.69" y="381.75" width="11.77" height="6.70" fill="#92c5de"/>
<rect x="344.86" y="381.75" width="11.77" height="6.70" fill="#92c5de"/>
<rect x="356.03" y="381.75" width="11.17" height="6.70" fill="#7eb8d7"/>
<rect x="32.10" y="387.85" width="11.77" height="6.70" fill="#9f1228"/>
<rect x="43.27" y="387.85" width="11.77" height="6.70" fill="#fbceb6"/>
<rect x="54.44" y="387.85" width="11.77" height="6.70" fill="#2b73b3"/>
<rect x="65.61" y="387.85" width="11.77" height="6.70" fill="#3d8bbf"/>
<rect x="76.78" y="387.85" width="11.77" height="6.70" fill="#2267ad"/>
<rect x="87.95" y="387.85" width="11.77" height="6.70" fill="#2267ad"/>
<rect x="99.12" y="387.85" width="11.77" height="6.70" fill="#347fb9"/>
<rect x="110.29" y="387.85" width="11.77" height="6.70" fill="#2267ad"/>
<rect x="121.46" y="387.85" width="11.77" height="6.70" fill="#2b73b3"/>
<rect x="132.63" y="387.85" width="11.77" height="6.70" fill="#2267ad"/>
<rect x="143.80" y="387.85" width="11.77" height="6.70" fill="#2b73b3"/>
<rect x="154.97" y="387.85" width="11.77" height="6.70" fill="#2b73b3"/>
<rect x="166.14" y="387.85" width="11.77" height="6.70" fill="#2b73b3"/>
<rect x="177.31" y="387.85" width="11.77" height="6.70" fill="#2b73b3"/>
<rect x="188.48" y="387.85" width="11.77" height="6.70" fill="#2b73b3"/>
<rect x="199.65" y="387.85" width="11.77" height="6.70" fill="#3d8bbf"/>
<rect x="210.82" y="387.85" width="11.77" height="6.70" fill="#347fb9"/>
<rect x="221.99" y="387.85" width="11.77" height="6.70" fill="#3d8bbf"/>
<rect x="233.16" y="387.85" width="11.77" height="6.70" fill="#347fb9"/>
<rect x="244.33" y="387.85" width="11.77" height="6.70" fill="#b2d5e7"/>
<rect x="255.50" y="387.85" width="11.77" height="6.70" fill="#e8eaeb"/>
<rect x="266.67" y="387.85" width="11.77" height="6.70" fill="#134b86"/>
<rect x="277.84" y="387.85" width="11.77" height="6.70" fill="#134b86"/>
<rect x="289.01" y="387.85" width="11.77" height="6.70" fill="#134b86"/>
<rect x="300.18" y="387.85" width="11.77" height="6.70" fill="#7eb8d7"/>
<rect x="311.35" y="387.85" width="11.77" height="6.70" fill="#4a97c5"/>
<rect x="322.52" y="387.85" width="11.77" height="6.70" fill="#4a97c5"/>
<rect x="333.69" y="387.85" width="11.77" height="6.70" fill="#4a97c5"/>
<rect x="344.86" y="387.85" width="11.77" height="6.70" fill="#6aacd0"/>
<rect x="356.03" y="387.85" width="11.17" height="6.70" fill="#2b73b3"/>
<rect x="32.10" y="393.95" width="11.77" height="6.70" fill="#8c0c25"/>
<rect x="43.27" y="393.95" width="11.77" height="6.70" fill="#ec9475"/>
<rect x="54.44" y="393.95" width="11.77" height="6.70" fill="#3d8bbf"/>
<rect x="65.61" y="393.95" width="11.77" height="6.70" fill="#3d8bbf"/>
<rect x="76.78" y="393.95" width="11.77" height="6.70" fill="#2267ad"/>
<rect x="87.95" y="393.95" width="11.77" height="6.70" fill="#1a599a"/>
<rect x="99.12" y="393.95" width="11.77" height="6.70" fill="#1a599a"/>
<rect x="110.29" y="393.95" width="11.77" height="6.70" fill="#1a599a"/>
<rect x="121.46" y="393.95" width="11.77" height="6.70" fill="#1a599a"/>
<rect x="132.63" y="393.95" width="11.77" height="6.70" fill="#2267ad"/>
<rect x="143.80" y="393.95" width="11.77" height="6.70" fill="#2b73b3"/>
<rect x="154.97" y="393.95" width="11.77" height="6.70" fill="#2b73b3"/>
<rect x="166.14" y="393.95" width="11.77" height="6.70" fill="#347fb9"/>
<rect x="177.31" y="393.95" width="11.77" height="6.70" fill="#2b73b3"/>
<rect x="188.48" y="393.95" width="11.77" height="6.70" fill="#2b73b3"/>
<rect x="199.65" y="393.95" width="11.77" height="6.70" fill="#347fb9"/>
<rect x="210.82" y="393.95" width="11.77" height="6.70" fill="#3d8bbf"/>
<rect x="221.99" y="393.95" width="11.77" height="6.70" fill="#4a97c5"/>
<rect x="233.16" y="393.95" width="11.77" height="6.70" fill="#3d8bbf"/>
<rect x="244.33" y="393.95" width="11.77" height="6.70" fill="#7eb8d7"/>
<rect x="255.50" y="393.95" width="11.77" height="6.70" fill="#b2d5e7"/>
<rect x="266.67" y="393.95" width="11.77" height="6.70" fill="#3d8bbf"/>
<rect x="277.84" y="393.95" width="11.77" height="6.70" fill="#2b73b3"/>
<rect x="289.01" y="393.95" width="11.77" height="6.70" fill="#4a97c5"/>
<rect x="300.18" y="393.95" width="11.77" height="6.70" fill="#7eb8d7"/>
<rect x="311.35" y="393.95" width="11.77" height="6.70" fill="#c1ddec"/>
<rect x="322.52" y="393.95" width="11.77" height="6.70" fill="#e0e8ec"/>
<rect x="333.69" y="393.95" width="11.77" height="6.70" fill="#f6e3d8"/>
<rect x="344.86" y="393.95" width="11.77" height="6.70" fill="#b2d5e7"/>
<rect x="356.03" y="393.95" width="11.17" height="6.70" fill="#a2cde2"/>
<rect x="32.10" y="400.05" width="11.77" height="6.70" fill="#9f1228"/>
<rect x="43.27" y="400.05" width="11.77" height="6.70" fill="#ec9475"/>
<rect x="54.44" y="400.05" width="11.77" height="6.70" fill="#2b73b3"/>
<rect x="65.61" y="400.05" width="11.77" height="6.70" fill="#2b73b3"/>
<rect x="76.78" y="400.05" width="11.77" height="6.70" fill="#1a599a"/>
<rect x="87.95" y="400.05" width="11.77" height="6.70" fill="#134b86"/>
<rect x="99.12" y="400.05" width="11.77" height="6.70" fill="#2267ad"/>
<rect x="110.29" y="400.05" width="11.77" height="6.70" fill="#1a599a"/>
<rect x="121.46" y="400.05" width="11.77" height="6.70" fill="#2267ad"/>
<rect x="132.63" y="400.05" width="11.77" height="6.70" fill="#134b86"/>
<rect x="143.80" y="400.05" width="11.77" height="6.70" fill="#2267ad"/>
<rect x="154.97" y="400.05" width="11.77" height="6.70" fill="#2267ad"/>
<rect x="166.14" y="400.05" width="11.77" height="6.70" fill="#2b73b3"/>
<rect x="177.31" y="400.05" width="11.77" height="6.70" fill="#2b73b3"/>
<rect x="188.48" y="400.05" width="11.77" height="6.70" fill="#2267ad"/>
<rect x="199.65" y="400.05" width="11.77" height="6.70" fill="#2b73b3"/>
<rect x="210.82" y="400.05" width="11.77" height="6.70" fill="#2b73b3"/>
<rect x="221.99" y="400.05" width="11.77" height="6.70" fill="#2b73b3"/>
<rect x="233.16" y="400.05" width="11.77" height="6.70" fill="#2b73b3"/>
<rect x="244.33" y="400.05" width="11.77" height="6.70" fill="#f6e3d8"/>
<rect x="255.50" y="400.05" width="11.77" height="6.70" fill="#7eb8d7"/>
<rect x="266.67" y="400.05" width="11.77" height="6.70" fill="#3d8bbf"/>
<rect x="277.84" y="400.05" width="11.77" height="6.70" fill="#2b73b3"/>
<rect x="289.01" y="400.05" width="11.77" height="6.70" fill="#3d8bbf"/>
<rect x="300.18" y="400.05" width="11.77" height="6.70" fill="#92c5de"/>
<rect x="311.35" y="400.05" width="11.77" height="6.70" fill="#92c5de"/>
<rect x="322.52" y="400.05" width="11.77" height="6.70" fill="#e8eaeb"/>
<rect x="333.69" y="400.05" width="11.77" height="6.70" fill="#e8eaeb"/>
<rect x="344.86" y="400.05" width="11.77" height="6.70" fill="#d1e5f0"/>
<rect x="356.03" y="400.05" width="11.17" height="6.70" fill="#b2d5e7"/>
<rect x="32.10" y="406.15" width="11.77" height="6.10" fill="#8c0c25"/>
<rect x="43.27" y="406.15" width="11.77" height="6.10" fill="#ec9475"/>
<rect x="54.44" y="406.15" width="11.77" height="6.10" fill="#2267ad"/>
<rect x="65.61" y="406.15" width="11.77" height="6.10" fill="#2267ad"/>
<rect x="76.78" y="406.15" width="11.77" height="6.10" fill="#134b86"/>
<rect x="87.95" y="406.15" width="11.77" height="6.10" fill="#134b86"/>
<rect x="99.12" y="406.15" width="11.77" height="6.10" fill="#134b86"/>
<rect x="110.29" y="406.15" width="11.77" height="6.10" fill="#0b3c72"/>
<rect x="121.46" y="406.15" width="11.77" height="6.10" fill="#1a599a"/>
<rect x="132.63" y="406.15" width="11.77" height="6.10" fill="#0b3c72"/>
<rect x="143.80" y="406.15" width="11.77" height="6.10" fill="#1a599a"/>
<rect x="154.97" y="406.15" width="11.77" height="6.10" fill="#134b86"/>
<rect x="166.14" y="406.15" width="11.77" height="6.10" fill="#1a599a"/>
<rect x="177.31" y="406.15" width="11.77" height="6.10" fill="#1a599a"/>
<rect x="188.48" y="406.15" width="11.77" height="6.10" fill="#1a599a"/>
<rect x="199.65" y="406.15" width="11.77" height="6.10" fill="#1a599a"/>
<rect x="210.82" y="406.15" width="11.77" height="6.10" fill="#1a599a"/>
<rect x="221.99" y="406.15" width="11.77" height="6.10" fill="#1a599a"/>
<rect x="233.16" y="406.15" width="11.77" height="6.10" fill="#1a599a"/>
<rect x="244.33" y="406.15" width="11.77" height="6.10" fill="#b2d5e7"/>
<rect x="255.50" y="406.15" width="11.77" height="6.10" fill="#a2cde2"/>
<rect x="266.67" y="406.15" width="11.77" height="6.10" fill="#3d8bbf"/>
<rect x="277.84" y="406.15" width="11.77" height="6.10" fill="#347fb9"/>
<rect x="289.01" y="406.15" width="11.77" height="6.10" fill="#3d8bbf"/>
<rect x="300.18" y="406.15" width="11.77" height="6.10" fill="#92c5de"/>
<rect x="311.35" y="406.15" width="11.77" height="6.10" fill="#92c5de"/>
<rect x="322.52" y="406.15" width="11.77" height="6.10" fill="#e8eaeb"/>
<rect x="333.69" y="406.15" width="11.77" height="6.10" fill="#e0e8ec"/>
<rect x="344.86" y="406.15" width="11.77" height="6.10" fill="#a2cde2"/>
<rect x="356.03" y="406.15" width="11.17" height="6.10" fill="#6aacd0"/>
<rect x="37.09" y="292.70" width="1.2" height="1.2" fill="#fff" fill-opacity="0.8"/>
<rect x="270.80" y="292.70" width="1.2" height="1.2" fill="#fff" fill-opacity="0.8"/>
<rect x="272.50" y="292.70" width="1.2" height="1.2" fill="#fff" fill-opacity="0.8"/>
<rect x="281.12" y="292.70" width="1.2" height="1.2" fill="#fff" fill-opacity="0.8"/>
<rect x="282.82" y="292.70" width="1.2" height="1.2" fill="#fff" fill-opacity="0.8"/>
<rect x="284.52" y="292.70" width="1.2" height="1.2" fill="#fff" fill-opacity="0.8"/>
<rect x="292.30" y="292.70" width="1.2" height="1.2" fill="#fff" fill-opacity="0.8"/>
<rect x="294.00" y="292.70" width="1.2" height="1.2" fill="#fff" fill-opacity="0.8"/>
<rect x="295.69" y="292.70" width="1.2" height="1.2" fill="#fff" fill-opacity="0.8"/>
<rect x="316.33" y="292.70" width="1.2" height="1.2" fill="#fff" fill-opacity="0.8"/>
<rect x="327.50" y="292.70" width="1.2" height="1.2" fill="#fff" fill-opacity="0.8"/>
<rect x="338.68" y="292.70" width="1.2" height="1.2" fill="#fff" fill-opacity="0.8"/>
<rect x="349.84" y="292.70" width="1.2" height="1.2" fill="#fff" fill-opacity="0.8"/>
<rect x="360.16" y="292.70" width="1.2" height="1.2" fill="#fff" fill-opacity="0.8"/>
<rect x="361.87" y="292.70" width="1.2" height="1.2" fill="#fff" fill-opacity="0.8"/>
<rect x="36.23" y="298.80" width="1.2" height="1.2" fill="#fff" fill-opacity="0.8"/>
<rect x="37.94" y="298.80" width="1.2" height="1.2" fill="#fff" fill-opacity="0.8"/>
<rect x="59.43" y="298.80" width="1.2" height="1.2" fill="#fff" fill-opacity="0.8"/>
<rect x="81.77" y="298.80" width="1.2" height="1.2" fill="#fff" fill-opacity="0.8"/>
<rect x="92.94" y="298.80" width="1.2" height="1.2" fill="#fff" fill-opacity="0.8"/>
<rect x="270.80" y="298.80" width="1.2" height="1.2" fill="#fff" fill-opacity="0.8"/>
<rect x="272.50" y="298.80" width="1.2" height="1.2" fill="#fff" fill-opacity="0.8"/>
<rect x="281.12" y="298.80" width="1.2" height="1.2" fill="#fff" fill-opacity="0.8"/>
<rect x="282.82" y="298.80" width="1.2" height="1.2" fill="#fff" fill-opacity="0.8"/>
<rect x="284.52" y="298.80" width="1.2" height="1.2" fill="#fff" fill-opacity="0.8"/>
<rect x="292.30" y="298.80" width="1.2" height="1.2" fill="#fff" fill-opacity="0.8"/>
<rect x="294.00" y="298.80" width="1.2" height="1.2" fill="#fff" fill-opacity="0.8"/>
<rect x="295.69" y="298.80" width="1.2" height="1.2" fill="#fff" fill-opacity="0.8"/>
<rect x="316.33" y="298.80" width="1.2" height="1.2" fill="#fff" fill-opacity="0.8"/>
<rect x="327.50" y="298.80" width="1.2" height="1.2" fill="#fff" fill-opacity="0.8"/>
<rect x="338.68" y="298.80" width="1.2" height="1.2" fill="#fff" fill-opacity="0.8"/>
<rect x="349.84" y="298.80" width="1.2" height="1.2" fill="#fff" fill-opacity="0.8"/>
<rect x="360.16" y="298.80" width="1.2" height="1.2" fill="#fff" fill-opacity="0.8"/>
<rect x="361.87" y="298.80" width="1.2" height="1.2" fill="#fff" fill-opacity="0.8"/>
<rect x="36.23" y="304.90" width="1.2" height="1.2" fill="#fff" fill-opacity="0.8"/>
<rect x="37.94" y="304.90" width="1.2" height="1.2" fill="#fff" fill-opacity="0.8"/>
<rect x="92.94" y="304.90" width="1.2" height="1.2" fill="#fff" fill-opacity="0.8"/>
<rect x="270.80" y="304.90" width="1.2" height="1.2" fill="#fff" fill-opacity="0.8"/>
<rect x="272.50" y="304.90" width="1.2" height="1.2" fill="#fff" fill-opacity="0.8"/>
<rect x="281.12" y="304.90" width="1.2" height="1.2" fill="#fff" fill-opacity="0.8"/>
<rect x="282.82" y="304.90" width="1.2" height="1.2" fill="#fff" fill-opacity="0.8"/>
<rect x="284.52" y="304.90" width="1.2" height="1.2" fill="#fff" fill-opacity="0.8"/>
<rect x="292.30" y="304.90" width="1.2" height="1.2" fill="#fff" fill-opacity="0.8"/>
<rect x="294.00" y="304.90" width="1.2" height="1.2" fill="#fff" fill-opacity="0.8"/>
<rect x="295.69" y="304.90" width="1.2" height="1.2" fill="#fff" fill-opacity="0.8"/>
<rect x="316.33" y="304.90" width="1.2" height="1.2" fill="#fff" fill-opacity="0.8"/>
<rect x="327.50" y="304.90" width="1.2" height="1.2" fill="#fff" fill-opacity="0.8"/>
<rect x="338.68" y="304.90" width="1.2" height="1.2" fill="#fff" fill-opacity="0.8"/>
<rect x="360.16" y="304.90" width="1.2" height="1.2" fill="#fff" fill-opacity="0.8"/>
<rect x="361.87" y="304.90" width="1.2" height="1.2" fill="#fff" fill-opacity="0.8"/>
<rect x="35.38" y="311.00" width="1.2" height="1.2" fill="#fff" fill-opacity="0.8"/>
<rect x="37.09" y="311.00" width="1.2" height="1.2" fill="#fff" fill-opacity="0.8"/>
<rect x="38.79" y="311.00" width="1.2" height="1.2" fill="#fff" fill-opacity="0.8"/>
<rect x="80.92" y="311.00" width="1.2" height="1.2" fill="#fff" fill-opacity="0.8"/>
<rect x="82.62" y="311.00" width="1.2" height="1.2" fill="#fff" fill-opacity="0.8"/>
<rect x="91.23" y="311.00" width="1.2" height="1.2" fill="#fff" fill-opacity="0.8"/>
<rect x="92.94" y="311.00" width="1.2" height="1.2" fill="#fff" fill-opacity="0.8"/>
<rect x="94.64" y="311.00" width="1.2" height="1.2" fill="#fff" fill-opacity="0.8"/>
<rect x="104.11" y="311.00" width="1.2" height="1.2" fill="#fff" fill-opacity="0.8"/>
<rect x="114.43" y="311.00" width="1.2" height="1.2" fill="#fff" fill-opacity="0.8"/>
<rect x="116.12" y="311.00" width="1.2" height="1.2" fill="#fff" fill-opacity="0.8"/>
<rect x="126.44" y="311.00" width="1.2" height="1.2" fill="#fff" fill-opacity="0.8"/>
<rect x="136.77" y="311.00" width="1.2" height="1.2" fill="#fff" fill-opacity="0.8"/>
<rect x="138.47" y="311.00" width="1.2" height="1.2" fill="#fff" fill-opacity="0.8"/>
<rect x="148.78" y="311.00" width="1.2" height="1.2" fill="#fff" fill-opacity="0.8"/>
<rect x="159.96" y="311.00" width="1.2" height="1.2" fill="#fff" fill-opacity="0.8"/>
<rect x="171.12" y="311.00" width="1.2" height="1.2" fill="#fff" fill-opacity="0.8"/>
<rect x="182.29" y="311.00" width="1.2" height="1.2" fill="#fff" fill-opacity="0.8"/>
<rect x="193.47" y="311.00" width="1.2" height="1.2" fill="#fff" fill-opacity="0.8"/>
<rect x="204.63" y="311.00" width="1.2" height="1.2" fill="#fff" fill-opacity="0.8"/>
<rect x="215.81" y="311.00" width="1.2" height="1.2" fill="#fff" fill-opacity="0.8"/>
<rect x="271.65" y="311.00" width="1.2" height="1.2" fill="#fff" fill-opacity="0.8"/>
<rect x="281.97" y="311.00" width="1.2" height="1.2" fill="#fff" fill-opacity="0.8"/>
<rect x="283.68" y="311.00" width="1.2" height="1.2" fill="#fff" fill-opacity="0.8"/>
<rect x="36.23" y="317.10" width="1.2" height="1.2" fill="#fff" fill-opacity="0.8"/>
<rect x="37.94" y="317.10" width="1.2" height="1.2" fill="#fff" fill-opacity="0.8"/>
<rect x="58.58" y="317.10" width="1.2" height="1.2" fill="#fff" fill-opacity="0.8"/>
<rect x="60.28" y="317.10" width="1.2" height="1.2" fill="#fff" fill-opacity="0.8"/>
<rect x="80.92" y="317.10" width="1.2" height="1.2" fill="#fff" fill-opacity="0.8"/>
<rect x="82.62" y="317.10" width="1.2" height="1.2" fill="#fff" fill-opacity="0.8"/>
<rect x="92.94" y="317.10" width="1.2" height="1.2" fill="#fff" fill-opacity="0.8"/>
<rect x="115.28" y="317.10" width="1.2" height="1.2" fill="#fff" fill-opacity="0.8"/>
<rect x="126.44" y="317.10" width="1.2" height="1.2" fill="#fff" fill-opacity="0.8"/>
<rect x="137.62" y="317.10" width="1.2" height="1.2" fill="#fff" fill-opacity="0.8"/>
<rect x="148.78" y="317.10" width="1.2" height="1.2" fill="#fff" fill-opacity="0.8"/>
<rect x="159.96" y="317.10" width="1.2" height="1.2" fill="#fff" fill-opacity="0.8"/>
<rect x="171.12" y="317.10" width="1.2" height="1.2" fill="#fff" fill-opacity="0.8"/>
<rect x="182.29" y="317.10" width="1.2" height="1.2" fill="#fff" fill-opacity="0.8"/>
<rect x="193.47" y="317.10" width="1.2" height="1.2" fill="#fff" fill-opacity="0.8"/>
<rect x="215.81" y="317.10" width="1.2" height="1.2" fill="#fff" fill-opacity="0.8"/>
<rect x="226.97" y="317.10" width="1.2" height="1.2" fill="#fff" fill-opacity="0.8"/>
<rect x="238.15" y="317.10" width="1.2" height="1.2" fill="#fff" fill-opacity="0.8"/>
<rect x="271.65" y="317.10" width="1.2" height="1.2" fill="#fff" fill-opacity="0.8"/>
<rect x="281.97" y="317.10" width="1.2" height="1.2" fill="#fff" fill-opacity="0.8"/>
<rect x="283.68" y="317.10" width="1.2" height="1.2" fill="#fff" fill-opacity="0.8"/>
<rect x="293.14" y="317.10" width="1.2" height="1.2" fill="#fff" fill-opacity="0.8"/>
<rect x="294.85" y="317.10" width="1.2" height="1.2" fill="#fff" fill-opacity="0.8"/>
<rect x="36.23" y="323.20" width="1.2" height="1.2" fill="#fff" fill-opacity="0.8"/>
<rect x="37.94" y="323.20" width="1.2" height="1.2" fill="#fff" fill-opacity="0.8"/>
<rect x="58.58" y="323.20" width="1.2" height="1.2" fill="#fff" fill-opacity="0.8"/>
<rect x="60.28" y="323.20" width="1.2" height="1.2" fill="#fff" fill-opacity="0.8"/>
<rect x="80.92" y="323.20" width="1.2" height="1.2" fill="#fff" fill-opacity="0.8"/>
<rect x="82.62" y="323.20" width="1.2" height="1.2" fill="#fff" fill-opacity="0.8"/>
<rect x="92.94" y="323.20" width="1.2" height="1.2" fill="#fff" fill-opacity="0.8"/>
<rect x="115.28" y="323.20" width="1.2" height="1.2" fill="#fff" fill-opacity="0.8"/>
<rect x="137.62" y="323.20" width="1.2" height="1.2" fill="#fff" fill-opacity="0.8"/>
<rect x="159.96" y="323.20" width="1.2" height="1.2" fill="#fff" fill-opacity="0.8"/>
<rect x="182.29" y="323.20" width="1.2" height="1.2" fill="#fff" fill-opacity="0.8"/>
<rect x="193.47" y="323.20" width="1.2" height="1.2" fill="#fff" fill-opacity="0.8"/>
<rect x="270.80" y="323.20" width="1.2" height="1.2" fill="#fff" fill-opacity="0.8"/>
<rect x="272.50" y="323.20" width="1.2" height="1.2" fill="#fff" fill-opacity="0.8"/>
<rect x="281.97" y="323.20" width="1.2" height="1.2" fill="#fff" fill-opacity="0.8"/>
<rect x="283.68" y="323.20" width="1.2" height="1.2" fill="#fff" fill-opacity="0.8"/>
<rect x="293.14" y="323.20" width="1.2" height="1.2" fill="#fff" fill-opacity="0.8"/>
<rect x="294.85" y="323.20" width="1.2" height="1.2" fill="#fff" fill-opacity="0.8"/>
<rect x="361.01" y="323.20" width="1.2" height="1.2" fill="#fff" fill-opacity="0.8"/>
<rect x="36.23" y="329.30" width="1.2" height="1.2" fill="#fff" fill-opacity="0.8"/>
<rect x="37.94" y="329.30" width="1.2" height="1.2" fill="#fff" fill-opacity="0.8"/>
<rect x="58.58" y="329.30" width="1.2" height="1.2" fill="#fff" fill-opacity="0.8"/>
<rect x="60.28" y="329.30" width="1.2" height="1.2" fill="#fff" fill-opacity="0.8"/>
<rect x="80.92" y="329.30" width="1.2" height="1.2" fill="#fff" fill-opacity="0.8"/>
<rect x="82.62" y="329.30" width="1.2" height="1.2" fill="#fff" fill-opacity="0.8"/>
<rect x="92.94" y="329.30" width="1.2" height="1.2" fill="#fff" fill-opacity="0.8"/>
<rect x="115.28" y="329.30" width="1.2" height="1.2" fill="#fff" fill-opacity="0.8"/>
<rect x="137.62" y="329.30" width="1.2" height="1.2" fill="#fff" fill-opacity="0.8"/>
<rect x="159.96" y="329.30" width="1.2" height="1.2" fill="#fff" fill-opacity="0.8"/>
<rect x="171.12" y="329.30" width="1.2" height="1.2" fill="#fff" fill-opacity="0.8"/>
<rect x="182.29" y="329.30" width="1.2" height="1.2" fill="#fff" fill-opacity="0.8"/>
<rect x="193.47" y="329.30" width="1.2" height="1.2" fill="#fff" fill-opacity="0.8"/>
<rect x="270.80" y="329.30" width="1.2" height="1.2" fill="#fff" fill-opacity="0.8"/>
<rect x="272.50" y="329.30" width="1.2" height="1.2" fill="#fff" fill-opacity="0.8"/>
<rect x="281.97" y="329.30" width="1.2" height="1.2" fill="#fff" fill-opacity="0.8"/>
<rect x="283.68" y="329.30" width="1.2" height="1.2" fill="#fff" fill-opacity="0.8"/>
<rect x="293.14" y="329.30" width="1.2" height="1.2" fill="#fff" fill-opacity="0.8"/>
<rect x="294.85" y="329.30" width="1.2" height="1.2" fill="#fff" fill-opacity="0.8"/>
<rect x="361.01" y="329.30" width="1.2" height="1.2" fill="#fff" fill-opacity="0.8"/>
<rect x="47.41" y="335.40" width="1.2" height="1.2" fill="#fff" fill-opacity="0.8"/>
<rect x="49.11" y="335.40" width="1.2" height="1.2" fill="#fff" fill-opacity="0.8"/>
<rect x="305.17" y="335.40" width="1.2" height="1.2" fill="#fff" fill-opacity="0.8"/>
<rect x="316.33" y="335.40" width="1.2" height="1.2" fill="#fff" fill-opacity="0.8"/>
<rect x="327.50" y="335.40" width="1.2" height="1.2" fill="#fff" fill-opacity="0.8"/>
<rect x="338.68" y="335.40" width="1.2" height="1.2" fill="#fff" fill-opacity="0.8"/>
<rect x="46.55" y="341.50" width="1.2" height="1.2" fill="#fff" fill-opacity="0.8"/>
<rect x="48.26" y="341.50" width="1.2" height="1.2" fill="#fff" fill-opacity="0.8"/>
<rect x="49.96" y="341.50" width="1.2" height="1.2" fill="#fff" fill-opacity="0.8"/>
<rect x="70.59" y="341.50" width="1.2" height="1.2" fill="#fff" fill-opacity="0.8"/>
<rect x="104.11" y="341.50" width="1.2" height="1.2" fill="#fff" fill-opacity="0.8"/>
<rect x="159.96" y="341.50" width="1.2" height="1.2" fill="#fff" fill-opacity="0.8"/>
<rect x="171.12" y="341.50" width="1.2" height="1.2" fill="#fff" fill-opacity="0.8"/>
<rect x="204.63" y="341.50" width="1.2" height="1.2" fill="#fff" fill-opacity="0.8"/>
<rect x="215.81" y="341.50" width="1.2" height="1.2" fill="#fff" fill-opacity="0.8"/>
<rect x="226.97" y="341.50" width="1.2" height="1.2" fill="#fff" fill-opacity="0.8"/>
<rect x="238.15" y="341.50" width="1.2" height="1.2" fill="#fff" fill-opacity="0.8"/>
<rect x="327.50" y="341.50" width="1.2" height="1.2" fill="#fff" fill-opacity="0.8"/>
<rect x="338.68" y="341.50" width="1.2" height="1.2" fill="#fff" fill-opacity="0.8"/>
<rect x="46.55" y="347.60" width="1.2" height="1.2" fill="#fff" fill-opacity="0.8"/>
<rect x="48.26" y="347.60" width="1.2" height="1.2" fill="#fff" fill-opacity="0.8"/>
<rect x="49.96" y="347.60" width="1.2" height="1.2" fill="#fff" fill-opacity="0.8"/>
<rect x="70.59" y="347.60" width="1.2" height="1.2" fill="#fff" fill-opacity="0.8"/>
<rect x="327.50" y="347.60" width="1.2" height="1.2" fill="#fff" fill-opacity="0.8"/>
<rect x="338.68" y="347.60" width="1.2" height="1.2" fill="#fff" fill-opacity="0.8"/>
<rect x="46.55" y="353.70" width="1.2" height="1.2" fill="#fff" fill-opacity="0.8"/>
<rect x="48.26" y="353.70" width="1.2" height="1.2" fill="#fff" fill-opacity="0.8"/>
<rect x="49.96" y="353.70" width="1.2" height="1.2" fill="#fff" fill-opacity="0.8"/>
<rect x="70.59" y="353.70" width="1.2" height="1.2" fill="#fff" fill-opacity="0.8"/>
<rect x="327.50" y="353.70" width="1.2" height="1.2" fill="#fff" fill-opacity="0.8"/>
<rect x="338.68" y="353.70" width="1.2" height="1.2" fill="#fff" fill-opacity="0.8"/>
<rect x="46.55" y="359.80" width="1.2" height="1.2" fill="#fff" fill-opacity="0.8"/>
<rect x="48.26" y="359.80" width="1.2" height="1.2" fill="#fff" fill-opacity="0.8"/>
<rect x="49.96" y="359.80" width="1.2" height="1.2" fill="#fff" fill-opacity="0.8"/>
<rect x="305.17" y="359.80" width="1.2" height="1.2" fill="#fff" fill-opacity="0.8"/>
<rect x="316.33" y="359.80" width="1.2" height="1.2" fill="#fff" fill-opacity="0.8"/>
<rect x="327.50" y="359.80" width="1.2" height="1.2" fill="#fff" fill-opacity="0.8"/>
<rect x="338.68" y="359.80" width="1.2" height="1.2" fill="#fff" fill-opacity="0.8"/>
<rect x="46.55" y="365.90" width="1.2" height="1.2" fill="#fff" fill-opacity="0.8"/>
<rect x="48.26" y="365.90" width="1.2" height="1.2" fill="#fff" fill-opacity="0.8"/>
<rect x="49.96" y="365.90" width="1.2" height="1.2" fill="#fff" fill-opacity="0.8"/>
<rect x="305.17" y="365.90" width="1.2" height="1.2" fill="#fff" fill-opacity="0.8"/>
<rect x="316.33" y="365.90" width="1.2" height="1.2" fill="#fff" fill-opacity="0.8"/>
<rect x="327.50" y="365.90" width="1.2" height="1.2" fill="#fff" fill-opacity="0.8"/>
<rect x="338.68" y="365.90" width="1.2" height="1.2" fill="#fff" fill-opacity="0.8"/>
<rect x="48.26" y="372.00" width="1.2" height="1.2" fill="#fff" fill-opacity="0.8"/>
<rect x="282.82" y="372.00" width="1.2" height="1.2" fill="#fff" fill-opacity="0.8"/>
<rect x="294.00" y="372.00" width="1.2" height="1.2" fill="#fff" fill-opacity="0.8"/>
<rect x="304.31" y="372.00" width="1.2" height="1.2" fill="#fff" fill-opacity="0.8"/>
<rect x="306.02" y="372.00" width="1.2" height="1.2" fill="#fff" fill-opacity="0.8"/>
<rect x="315.48" y="372.00" width="1.2" height="1.2" fill="#fff" fill-opacity="0.8"/>
<rect x="317.19" y="372.00" width="1.2" height="1.2" fill="#fff" fill-opacity="0.8"/>
<rect x="327.50" y="372.00" width="1.2" height="1.2" fill="#fff" fill-opacity="0.8"/>
<rect x="338.68" y="372.00" width="1.2" height="1.2" fill="#fff" fill-opacity="0.8"/>
<rect x="349.84" y="372.00" width="1.2" height="1.2" fill="#fff" fill-opacity="0.8"/>
<rect x="361.01" y="372.00" width="1.2" height="1.2" fill="#fff" fill-opacity="0.8"/>
<rect x="36.23" y="378.10" width="1.2" height="1.2" fill="#fff" fill-opacity="0.8"/>
<rect x="37.94" y="378.10" width="1.2" height="1.2" fill="#fff" fill-opacity="0.8"/>
<rect x="92.94" y="378.10" width="1.2" height="1.2" fill="#fff" fill-opacity="0.8"/>
<rect x="270.80" y="378.10" width="1.2" height="1.2" fill="#fff" fill-opacity="0.8"/>
<rect x="272.50" y="378.10" width="1.2" height="1.2" fill="#fff" fill-opacity="0.8"/>
<rect x="281.12" y="378.10" width="1.2" height="1.2" fill="#fff" fill-opacity="0.8"/>
<rect x="282.82" y="378.10" width="1.2" height="1.2" fill="#fff" fill-opacity="0.8"/>
<rect x="284.52" y="378.10" width="1.2" height="1.2" fill="#fff" fill-opacity="0.8"/>
<rect x="293.14" y="378.10" width="1.2" height="1.2" fill="#fff" fill-opacity="0.8"/>
<rect x="294.85" y="378.10" width="1.2" height="1.2" fill="#fff" fill-opacity="0.8"/>
<rect x="316.33" y="378.10" width="1.2" height="1.2" fill="#fff" fill-opacity="0.8"/>
<rect x="327.50" y="378.10" width="1.2" height="1.2" fill="#fff" fill-opacity="0.8"/>
<rect x="338.68" y="378.10" width="1.2" height="1.2" fill="#fff" fill-opacity="0.8"/>
<rect x="361.01" y="378.10" width="1.2" height="1.2" fill="#fff" fill-opacity="0.8"/>
<rect x="35.38" y="384.20" width="1.2" height="1.2" fill="#fff" fill-opacity="0.8"/>
<rect x="37.09" y="384.20" width="1.2" height="1.2" fill="#fff" fill-opacity="0.8"/>
<rect x="38.79" y="384.20" width="1.2" height="1.2" fill="#fff" fill-opacity="0.8"/>
<rect x="59.43" y="384.20" width="1.2" height="1.2" fill="#fff" fill-opacity="0.8"/>
<rect x="80.92" y="384.20" width="1.2" height="1.2" fill="#fff" fill-opacity="0.8"/>
<rect x="82.62" y="384.20" width="1.2" height="1.2" fill="#fff" fill-opacity="0.8"/>
<rect x="92.09" y="384.20" width="1.2" height="1.2" fill="#fff" fill-opacity="0.8"/>
<rect x="93.78" y="384.20" width="1.2" height="1.2" fill="#fff" fill-opacity="0.8"/>
<rect x="115.28" y="384.20" width="1.2" height="1.2" fill="#fff" fill-opacity="0.8"/>
<rect x="136.77" y="384.20" width="1.2" height="1.2" fill="#fff" fill-opacity="0.8"/>
<rect x="138.47" y="384.20" width="1.2" height="1.2" fill="#fff" fill-opacity="0.8"/>
<rect x="148.78" y="384.20" width="1.2" height="1.2" fill="#fff" fill-opacity="0.8"/>
<rect x="159.96" y="384.20" width="1.2" height="1.2" fill="#fff" fill-opacity="0.8"/>
<rect x="171.12" y="384.20" width="1.2" height="1.2" fill="#fff" fill-opacity="0.8"/>
<rect x="182.29" y="384.20" width="1.2" height="1.2" fill="#fff" fill-opacity="0.8"/>
<rect x="193.47" y="384.20" width="1.2" height="1.2" fill="#fff" fill-opacity="0.8"/>
<rect x="238.15" y="384.20" width="1.2" height="1.2" fill="#fff" fill-opacity="0.8"/>
<rect x="271.65" y="384.20" width="1.2" height="1.2" fill="#fff" fill-opacity="0.8"/>
<rect x="281.97" y="384.20" width="1.2" height="1.2" fill="#fff" fill-opacity="0.8"/>
<rect x="283.68" y="384.20" width="1.2" height="1.2" fill="#fff" fill-opacity="0.8"/>
<rect x="294.00" y="384.20" width="1.2" height="1.2" fill="#fff" fill-opacity="0.8"/>
<rect x="36.23" y="390.30" width="1.2" height="1.2" fill="#fff" fill-opacity="0.8"/>
<rect x="37.94" y="390.30" width="1.2" height="1.2" fill="#fff" fill-opacity="0.8"/>
<rect x="59.43" y="390.30" width="1.2" height="1.2" fill="#fff" fill-opacity="0.8"/>
<rect x="81.77" y="390.30" width="1.2" height="1.2" fill="#fff" fill-opacity="0.8"/>
<rect x="92.94" y="390.30" width="1.2" height="1.2" fill="#fff" fill-opacity="0.8"/>
<rect x="115.28" y="390.30" width="1.2" height="1.2" fill="#fff" fill-opacity="0.8"/>
<rect x="126.44" y="390.30" width="1.2" height="1.2" fill="#fff" fill-opacity="0.8"/>
<rect x="137.62" y="390.30" width="1.2" height="1.2" fill="#fff" fill-opacity="0.8"/>
<rect x="159.96" y="390.30" width="1.2" height="1.2" fill="#fff" fill-opacity="0.8"/>
<rect x="182.29" y="390.30" width="1.2" height="1.2" fill="#fff" fill-opacity="0.8"/>
<rect x="193.47" y="390.30" width="1.2" height="1.2" fill="#fff" fill-opacity="0.8"/>
<rect x="215.81" y="390.30" width="1.2" height="1.2" fill="#fff" fill-opacity="0.8"/>
<rect x="270.80" y="390.30" width="1.2" height="1.2" fill="#fff" fill-opacity="0.8"/>
<rect x="272.50" y="390.30" width="1.2" height="1.2" fill="#fff" fill-opacity="0.8"/>
<rect x="281.97" y="390.30" width="1.2" height="1.2" fill="#fff" fill-opacity="0.8"/>
<rect x="283.68" y="390.30" width="1.2" height="1.2" fill="#fff" fill-opacity="0.8"/>
<rect x="293.14" y="390.30" width="1.2" height="1.2" fill="#fff" fill-opacity="0.8"/>
<rect x="294.85" y="390.30" width="1.2" height="1.2" fill="#fff" fill-opacity="0.8"/>
<rect x="35.38" y="396.40" width="1.2" height="1.2" fill="#fff" fill-opacity="0.8"/>
<rect x="37.09" y="396.40" width="1.2" height="1.2" fill="#fff" fill-opacity="0.8"/>
<rect x="38.79" y="396.40" width="1.2" height="1.2" fill="#fff" fill-opacity="0.8"/>
<rect x="81.77" y="396.40" width="1.2" height="1.2" fill="#fff" fill-opacity="0.8"/>
<rect x="92.09" y="396.40" width="1.2" height="1.2" fill="#fff" fill-opacity="0.8"/>
<rect x="93.78" y="396.40" width="1.2" height="1.2" fill="#fff" fill-opacity="0.8"/>
<rect x="103.26" y="396.40" width="1.2" height="1.2" fill="#fff" fill-opacity="0.8"/>
<rect x="104.96" y="396.40" width="1.2" height="1.2" fill="#fff" fill-opacity="0.8"/>
<rect x="114.43" y="396.40" width="1.2" height="1.2" fill="#fff" fill-opacity="0.8"/>
<rect x="116.12" y="396.40" width="1.2" height="1.2" fill="#fff" fill-opacity="0.8"/>
<rect x="125.59" y="396.40" width="1.2" height="1.2" fill="#fff" fill-opacity="0.8"/>
<rect x="127.29" y="396.40" width="1.2" height="1.2" fill="#fff" fill-opacity="0.8"/>
<rect x="137.62" y="396.40" width="1.2" height="1.2" fill="#fff" fill-opacity="0.8"/>
<rect x="148.78" y="396.40" width="1.2" height="1.2" fill="#fff" fill-opacity="0.8"/>
<rect x="159.96" y="396.40" width="1.2" height="1.2" fill="#fff" fill-opacity="0.8"/>
<rect x="182.29" y="396.40" width="1.2" height="1.2" fill="#fff" fill-opacity="0.8"/>
<rect x="193.47" y="396.40" width="1.2" height="1.2" fill="#fff" fill-opacity="0.8"/>
<rect x="204.63" y="396.40" width="1.2" height="1.2" fill="#fff" fill-opacity="0.8"/>
<rect x="282.82" y="396.40" width="1.2" height="1.2" fill="#fff" fill-opacity="0.8"/>
<rect x="361.01" y="396.40" width="1.2" height="1.2" fill="#fff" fill-opacity="0.8"/>
<rect x="36.23" y="402.50" width="1.2" height="1.2" fill="#fff" fill-opacity="0.8"/>
<rect x="37.94" y="402.50" width="1.2" height="1.2" fill="#fff" fill-opacity="0.8"/>
<rect x="80.92" y="402.50" width="1.2" height="1.2" fill="#fff" fill-opacity="0.8"/>
<rect x="82.62" y="402.50" width="1.2" height="1.2" fill="#fff" fill-opacity="0.8"/>
<rect x="91.23" y="402.50" width="1.2" height="1.2" fill="#fff" fill-opacity="0.8"/>
<rect x="92.94" y="402.50" width="1.2" height="1.2" fill="#fff" fill-opacity="0.8"/>
<rect x="94.64" y="402.50" width="1.2" height="1.2" fill="#fff" fill-opacity="0.8"/>
<rect x="104.11" y="402.50" width="1.2" height="1.2" fill="#fff" fill-opacity="0.8"/>
<rect x="114.43" y="402.50" width="1.2" height="1.2" fill="#fff" fill-opacity="0.8"/>
<rect x="116.12" y="402.50" width="1.2" height="1.2" fill="#fff" fill-opacity="0.8"/>
<rect x="126.44" y="402.50" width="1.2" height="1.2" fill="#fff" fill-opacity="0.8"/>
<rect x="136.77" y="402.50" width="1.2" height="1.2" fill="#fff" fill-opacity="0.8"/>
<rect x="138.47" y="402.50" width="1.2" height="1.2" fill="#fff" fill-opacity="0.8"/>
<rect x="148.78" y="402.50" width="1.2" height="1.2" fill="#fff" fill-opacity="0.8"/>
<rect x="159.96" y="402.50" width="1.2" height="1.2" fill="#fff" fill-opacity="0.8"/>
<rect x="171.12" y="402.50" width="1.2" height="1.2" fill="#fff" fill-opacity="0.8"/>
<rect x="182.29" y="402.50" width="1.2" height="1.2" fill="#fff" fill-opacity="0.8"/>
<rect x="193.47" y="402.50" width="1.2" height="1.2" fill="#fff" fill-opacity="0.8"/>
<rect x="204.63" y="402.50" width="1.2" height="1.2" fill="#fff" fill-opacity="0.8"/>
<rect x="215.81" y="402.50" width="1.2" height="1.2" fill="#fff" fill-opacity="0.8"/>
<rect x="226.97" y="402.50" width="1.2" height="1.2" fill="#fff" fill-opacity="0.8"/>
<rect x="238.15" y="402.50" width="1.2" height="1.2" fill="#fff" fill-opacity="0.8"/>
<rect x="282.82" y="402.50" width="1.2" height="1.2" fill="#fff" fill-opacity="0.8"/>
<rect x="35.38" y="408.60" width="1.2" height="1.2" fill="#fff" fill-opacity="0.8"/>
<rect x="37.09" y="408.60" width="1.2" height="1.2" fill="#fff" fill-opacity="0.8"/>
<rect x="38.79" y="408.60" width="1.2" height="1.2" fill="#fff" fill-opacity="0.8"/>
<rect x="59.43" y="408.60" width="1.2" height="1.2" fill="#fff" fill-opacity="0.8"/>
<rect x="70.59" y="408.60" width="1.2" height="1.2" fill="#fff" fill-opacity="0.8"/>
<rect x="80.07" y="408.60" width="1.2" height="1.2" fill="#fff" fill-opacity="0.8"/>
<rect x="81.77" y="408.60" width="1.2" height="1.2" fill="#fff" fill-opacity="0.8"/>
<rect x="83.47" y="408.60" width="1.2" height="1.2" fill="#fff" fill-opacity="0.8"/>
<rect x="91.23" y="408.60" width="1.2" height="1.2" fill="#fff" fill-opacity="0.8"/>
<rect x="92.94" y="408.60" width="1.2" height="1.2" fill="#fff" fill-opacity="0.8"/>
<rect x="94.64" y="408.60" width="1.2" height="1.2" fill="#fff" fill-opacity="0.8"/>
<rect x="103.26" y="408.60" width="1.2" height="1.2" fill="#fff" fill-opacity="0.8"/>
<rect x="104.96" y="408.60" width="1.2" height="1.2" fill="#fff" fill-opacity="0.8"/>
<rect x="113.58" y="408.60" width="1.2" height="1.2" fill="#fff" fill-opacity="0.8"/>
<rect x="115.28" y="408.60" width="1.2" height="1.2" fill="#fff" fill-opacity="0.8"/>
<rect x="116.98" y="408.60" width="1.2" height="1.2" fill="#fff" fill-opacity="0.8"/>
<rect x="125.59" y="408.60" width="1.2" height="1.2" fill="#fff" fill-opacity="0.8"/>
<rect x="127.29" y="408.60" width="1.2" height="1.2" fill="#fff" fill-opacity="0.8"/>
<rect x="135.92" y="408.60" width="1.2" height="1.2" fill="#fff" fill-opacity="0.8"/>
<rect x="137.62" y="408.60" width="1.2" height="1.2" fill="#fff" fill-opacity="0.8"/>
<rect x="139.31" y="408.60" width="1.2" height="1.2" fill="#fff" fill-opacity="0.8"/>
<rect x="147.94" y="408.60" width="1.2" height="1.2" fill="#fff" fill-opacity="0.8"/>
<rect x="149.63" y="408.60" width="1.2" height="1.2" fill="#fff" fill-opacity="0.8"/>
<rect x="158.26" y="408.60" width="1.2" height="1.2" fill="#fff" fill-opacity="0.8"/>
<rect x="159.96" y="408.60" width="1.2" height="1.2" fill="#fff" fill-opacity="0.8"/>
<rect x="161.66" y="408.60" width="1.2" height="1.2" fill="#fff" fill-opacity="0.8"/>
<rect x="170.28" y="408.60" width="1.2" height="1.2" fill="#fff" fill-opacity="0.8"/>
<rect x="171.97" y="408.60" width="1.2" height="1.2" fill="#fff" fill-opacity="0.8"/>
<rect x="181.44" y="408.60" width="1.2" height="1.2" fill="#fff" fill-opacity="0.8"/>
<rect x="183.14" y="408.60" width="1.2" height="1.2" fill="#fff" fill-opacity="0.8"/>
<rect x="192.62" y="408.60" width="1.2" height="1.2" fill="#fff" fill-opacity="0.8"/>
<rect x="194.31" y="408.60" width="1.2" height="1.2" fill="#fff" fill-opacity="0.8"/>
<rect x="203.78" y="408.60" width="1.2" height="1.2" fill="#fff" fill-opacity="0.8"/>
<rect x="205.48" y="408.60" width="1.2" height="1.2" fill="#fff" fill-opacity="0.8"/>
<rect x="214.96" y="408.60" width="1.2" height="1.2" fill="#fff" fill-opacity="0.8"/>
<rect x="216.66" y="408.60" width="1.2" height="1.2" fill="#fff" fill-opacity="0.8"/>
<rect x="226.12" y="408.60" width="1.2" height="1.2" fill="#fff" fill-opacity="0.8"/>
<rect x="227.82" y="408.60" width="1.2" height="1.2" fill="#fff" fill-opacity="0.8"/>
<rect x="237.30" y="408.60" width="1.2" height="1.2" fill="#fff" fill-opacity="0.8"/>
<rect x="239.00" y="408.60" width="1.2" height="1.2" fill="#fff" fill-opacity="0.8"/>
<rect x="282.82" y="408.60" width="1.2" height="1.2" fill="#fff" fill-opacity="0.8"/>
<text x="368.30" y="295.50" font-size="5.07" text-anchor="start" fill="#111" color="#111" font-weight="normal" >Cell motility</text>
<text x="368.30" y="301.60" font-size="5.07" text-anchor="start" fill="#111" color="#111" font-weight="normal" >Amino acid metabolism</text>
<text x="368.30" y="307.70" font-size="5.07" text-anchor="start" fill="#111" color="#111" font-weight="normal" >Metabolism of other amino acids</text>
<text x="368.30" y="313.80" font-size="5.07" text-anchor="start" fill="#111" color="#111" font-weight="normal" >Energy metabolism</text>
<text x="368.30" y="319.90" font-size="5.07" text-anchor="start" fill="#111" color="#111" font-weight="normal" >Biosynthesis of other secondary metabolites</text>
<text x="368.30" y="326.00" font-size="5.07" text-anchor="start" fill="#111" color="#111" font-weight="normal" >Global and overview maps</text>
<text x="368.30" y="332.10" font-size="5.07" text-anchor="start" fill="#111" color="#111" font-weight="normal" >Metabolism of cofactors and vitamins</text>
<text x="368.30" y="338.20" font-size="5.07" text-anchor="start" fill="#111" color="#111" font-weight="normal" >Xenobiotics biodegradation and metabolism</text>
<text x="368.30" y="344.30" font-size="5.07" text-anchor="start" fill="#111" color="#111" font-weight="normal" >Drug resistance: Antimicrobial</text>
<text x="368.30" y="350.40" font-size="5.07" text-anchor="start" fill="#111" color="#111" font-weight="normal" >Signal transduction</text>
<text x="368.30" y="356.50" font-size="5.07" text-anchor="start" fill="#111" color="#111" font-weight="normal" >Folding, sorting and degradation</text>
<text x="368.30" y="362.60" font-size="5.07" text-anchor="start" fill="#111" color="#111" font-weight="normal" >Replication and repair</text>
<text x="368.30" y="368.70" font-size="5.07" text-anchor="start" fill="#111" color="#111" font-weight="normal" >Translation</text>
<text x="368.30" y="374.80" font-size="5.07" text-anchor="start" fill="#111" color="#111" font-weight="normal" >Nucleotide metabolism</text>
<text x="368.30" y="380.90" font-size="5.07" text-anchor="start" fill="#111" color="#111" font-weight="normal" >Metabolism of terpenoids and polyketides</text>
<text x="368.30" y="387.00" font-size="5.07" text-anchor="start" fill="#111" color="#111" font-weight="normal" >Carbohydrate metabolism</text>
<text x="368.30" y="393.10" font-size="5.07" text-anchor="start" fill="#111" color="#111" font-weight="normal" >Cellular community - prokaryotes</text>
<text x="368.30" y="399.20" font-size="5.07" text-anchor="start" fill="#111" color="#111" font-weight="normal" >Lipid metabolism</text>
<text x="368.30" y="405.30" font-size="5.07" text-anchor="start" fill="#111" color="#111" font-weight="normal" >Glycan biosynthesis and metabolism</text>
<text x="368.30" y="411.40" font-size="5.07" text-anchor="start" fill="#111" color="#111" font-weight="normal" >Membrane transport</text>
<text x="0" y="0" font-size="5.2" text-anchor="end" fill="#3a3a3a" color="#3a3a3a" transform="translate(40.19,417.3) rotate(-45)">Enterococcus_mundtii</text>
<text x="0" y="0" font-size="5.2" text-anchor="end" fill="#3a3a3a" color="#3a3a3a" transform="translate(51.36,417.3) rotate(-45)">Serratia_rubidaea</text>
<text x="0" y="0" font-size="5.2" text-anchor="end" fill="#3a3a3a" color="#3a3a3a" transform="translate(62.53,417.3) rotate(-45)">Escherichia_coli</text>
<text x="0" y="0" font-size="5.2" text-anchor="end" fill="#3a3a3a" color="#3a3a3a" transform="translate(73.69,417.3) rotate(-45)">Lactococcus_lactis</text>
<text x="0" y="0" font-size="5.2" text-anchor="end" fill="#3a3a3a" color="#3a3a3a" transform="translate(84.87,417.3) rotate(-45)">Companilactobacillus_paralimentarius</text>
<text x="0" y="0" font-size="5.2" text-anchor="end" fill="#3a3a3a" color="#3a3a3a" transform="translate(96.03,417.3) rotate(-45)">Klebsiella_pneumoniae</text>
<text x="0" y="0" font-size="5.2" text-anchor="end" fill="#3a3a3a" color="#3a3a3a" transform="translate(107.21,417.3) rotate(-45)">Leuconostoc_gelidum</text>
<text x="0" y="0" font-size="5.2" text-anchor="end" fill="#3a3a3a" color="#3a3a3a" transform="translate(118.38,417.3) rotate(-45)">Brochothrix_thermosphacta</text>
<text x="0" y="0" font-size="5.2" text-anchor="end" fill="#3a3a3a" color="#3a3a3a" transform="translate(129.54,417.3) rotate(-45)">Latilactobacillus_sakei</text>
<text x="0" y="0" font-size="5.2" text-anchor="end" fill="#3a3a3a" color="#3a3a3a" transform="translate(140.72,417.3) rotate(-45)">Levilactobacillus_brevis</text>
<text x="0" y="0" font-size="5.2" text-anchor="end" fill="#3a3a3a" color="#3a3a3a" transform="translate(151.88,417.3) rotate(-45)">unclassified_Vicinamibacterales</text>
<text x="0" y="0" font-size="5.2" text-anchor="end" fill="#3a3a3a" color="#3a3a3a" transform="translate(163.06,417.3) rotate(-45)">Komagataeibacter_hansenii</text>
<text x="0" y="0" font-size="5.2" text-anchor="end" fill="#3a3a3a" color="#3a3a3a" transform="translate(174.22,417.3) rotate(-45)">Acetobacter_orientalis</text>
<text x="0" y="0" font-size="5.2" text-anchor="end" fill="#3a3a3a" color="#3a3a3a" transform="translate(185.39,417.3) rotate(-45)">Acetobacter_persici</text>
<text x="0" y="0" font-size="5.2" text-anchor="end" fill="#3a3a3a" color="#3a3a3a" transform="translate(196.56,417.3) rotate(-45)">Wolbachia_endosymbiont</text>
<text x="0" y="0" font-size="5.2" text-anchor="end" fill="#3a3a3a" color="#3a3a3a" transform="translate(207.73,417.3) rotate(-45)">Pseudomonas_fragi</text>
<text x="0" y="0" font-size="5.2" text-anchor="end" fill="#3a3a3a" color="#3a3a3a" transform="translate(218.91,417.3) rotate(-45)">Providencia_alcalifaciens</text>
<text x="0" y="0" font-size="5.2" text-anchor="end" fill="#3a3a3a" color="#3a3a3a" transform="translate(230.07,417.3) rotate(-45)">Lactiplantibacillus_plantarum</text>
<text x="0" y="0" font-size="5.2" text-anchor="end" fill="#3a3a3a" color="#3a3a3a" transform="translate(241.25,417.3) rotate(-45)">unclassified_Vicinamibacteraceae</text>
<text x="0" y="0" font-size="5.2" text-anchor="end" fill="#3a3a3a" color="#3a3a3a" transform="translate(252.41,417.3) rotate(-45)">Enterobacter_cloacae</text>
<text x="0" y="0" font-size="5.2" text-anchor="end" fill="#3a3a3a" color="#3a3a3a" transform="translate(263.58,417.3) rotate(-45)">Salmonella_enterica</text>
<text x="0" y="0" font-size="5.2" text-anchor="end" fill="#3a3a3a" color="#3a3a3a" transform="translate(274.75,417.3) rotate(-45)">Vagococcus_fluvialis</text>
<text x="0" y="0" font-size="5.2" text-anchor="end" fill="#3a3a3a" color="#3a3a3a" transform="translate(285.93,417.3) rotate(-45)">Morganella_morganii</text>
<text x="0" y="0" font-size="5.2" text-anchor="end" fill="#3a3a3a" color="#3a3a3a" transform="translate(297.10,417.3) rotate(-45)">Serratia_marcescens</text>
<text x="0" y="0" font-size="5.2" text-anchor="end" fill="#3a3a3a" color="#3a3a3a" transform="translate(308.27,417.3) rotate(-45)">Enterobacter_ludwigii</text>
<text x="0" y="0" font-size="5.2" text-anchor="end" fill="#3a3a3a" color="#3a3a3a" transform="translate(319.44,417.3) rotate(-45)">Serratia_quinivorans</text>
<text x="0" y="0" font-size="5.2" text-anchor="end" fill="#3a3a3a" color="#3a3a3a" transform="translate(330.61,417.3) rotate(-45)">Proteus_vulgaris</text>
<text x="0" y="0" font-size="5.2" text-anchor="end" fill="#3a3a3a" color="#3a3a3a" transform="translate(341.78,417.3) rotate(-45)">Providencia_vermicola</text>
<text x="0" y="0" font-size="5.2" text-anchor="end" fill="#3a3a3a" color="#3a3a3a" transform="translate(352.94,417.3) rotate(-45)">Leliottia_amnigena</text>
<text x="0" y="0" font-size="5.2" text-anchor="end" fill="#3a3a3a" color="#3a3a3a" transform="translate(364.12,417.3) rotate(-45)">Providencia_rettgeri</text>
<rect x="462.1" y="290.60" width="6.0" height="1.22" fill="#6a011f"/>
<rect x="462.1" y="291.52" width="6.0" height="1.22" fill="#700320"/>
<rect x="462.1" y="292.44" width="6.0" height="1.22" fill="#750521"/>
<rect x="462.1" y="293.37" width="6.0" height="1.22" fill="#7b0622"/>
<rect x="462.1" y="294.29" width="6.0" height="1.22" fill="#810823"/>
<rect x="462.1" y="295.21" width="6.0" height="1.22" fill="#870a24"/>
<rect x="462.1" y="296.13" width="6.0" height="1.22" fill="#8d0c25"/>
<rect x="462.1" y="297.06" width="6.0" height="1.22" fill="#930e26"/>
<rect x="462.1" y="297.98" width="6.0" height="1.22" fill="#991027"/>
<rect x="462.1" y="298.90" width="6.0" height="1.22" fill="#9f1228"/>
<rect x="462.1" y="299.82" width="6.0" height="1.22" fill="#a51429"/>
<rect x="462.1" y="300.74" width="6.0" height="1.22" fill="#ab162a"/>
<rect x="462.1" y="301.67" width="6.0" height="1.22" fill="#b1182b"/>
<rect x="462.1" y="302.59" width="6.0" height="1.22" fill="#b51e2e"/>
<rect x="462.1" y="303.51" width="6.0" height="1.22" fill="#b82431"/>
<rect x="462.1" y="304.43" width="6.0" height="1.22" fill="#bb2a33"/>
<rect x="462.1" y="305.36" width="6.0" height="1.22" fill="#be3036"/>
<rect x="462.1" y="306.28" width="6.0" height="1.22" fill="#c13639"/>
<rect x="462.1" y="307.20" width="6.0" height="1.22" fill="#c43d3c"/>
<rect x="462.1" y="308.12" width="6.0" height="1.22" fill="#c8433f"/>
<rect x="462.1" y="309.04" width="6.0" height="1.22" fill="#cb4a43"/>
<rect x="462.1" y="309.97" width="6.0" height="1.22" fill="#ce5146"/>
<rect x="462.1" y="310.89" width="6.0" height="1.22" fill="#d25749"/>
<rect x="462.1" y="311.81" width="6.0" height="1.22" fill="#d55e4c"/>
<rect x="462.1" y="312.73" width="6.0" height="1.22" fill="#d86551"/>
<rect x="462.1" y="313.66" width="6.0" height="1.22" fill="#db6c56"/>
<rect x="462.1" y="314.58" width="6.0" height="1.22" fill="#de725b"/>
<rect x="462.1" y="315.50" width="6.0" height="1.22" fill="#e17961"/>
<rect x="462.1" y="316.42" width="6.0" height="1.22" fill="#e48166"/>
<rect x="462.1" y="317.34" width="6.0" height="1.22" fill="#e7886c"/>
<rect x="462.1" y="318.27" width="6.0" height="1.22" fill="#eb8f71"/>
<rect x="462.1" y="319.19" width="6.0" height="1.22" fill="#ee9777"/>
<rect x="462.1" y="320.11" width="6.0" height="1.22" fill="#f19f7d"/>
<rect x="462.1" y="321.03" width="6.0" height="1.22" fill="#f4a684"/>
<rect x="462.1" y="321.96" width="6.0" height="1.22" fill="#f5ad8c"/>
<rect x="462.1" y="322.88" width="6.0" height="1.22" fill="#f6b394"/>
<rect x="462.1" y="323.80" width="6.0" height="1.22" fill="#f8ba9d"/>
<rect x="462.1" y="324.72" width="6.0" height="1.22" fill="#f9c1a6"/>
<rect x="462.1" y="325.64" width="6.0" height="1.22" fill="#fac9af"/>
<rect x="462.1" y="326.57" width="6.0" height="1.22" fill="#fbd0b9"/>
<rect x="462.1" y="327.49" width="6.0" height="1.22" fill="#fdd9c4"/>
<rect x="462.1" y="328.41" width="6.0" height="1.22" fill="#fbddcb"/>
<rect x="462.1" y="329.33" width="6.0" height="1.22" fill="#f9e0d1"/>
<rect x="462.1" y="330.26" width="6.0" height="1.22" fill="#f6e3d8"/>
<rect x="462.1" y="331.18" width="6.0" height="1.22" fill="#f2e7e1"/>
<rect x="462.1" y="332.10" width="6.0" height="1.22" fill="#e8eaeb"/>
<rect x="462.1" y="333.02" width="6.0" height="1.22" fill="#e0e8ec"/>
<rect x="462.1" y="333.94" width="6.0" height="1.22" fill="#dae7ee"/>
<rect x="462.1" y="334.87" width="6.0" height="1.22" fill="#d5e6ef"/>
<rect x="462.1" y="335.79" width="6.0" height="1.22" fill="#cee4ef"/>
<rect x="462.1" y="336.71" width="6.0" height="1.22" fill="#c5dfec"/>
<rect x="462.1" y="337.63" width="6.0" height="1.22" fill="#bbdaea"/>
<rect x="462.1" y="338.56" width="6.0" height="1.22" fill="#b3d6e7"/>
<rect x="462.1" y="339.48" width="6.0" height="1.22" fill="#abd1e5"/>
<rect x="462.1" y="340.40" width="6.0" height="1.22" fill="#a3cde3"/>
<rect x="462.1" y="341.32" width="6.0" height="1.22" fill="#9bcae1"/>
<rect x="462.1" y="342.24" width="6.0" height="1.22" fill="#93c6de"/>
<rect x="462.1" y="343.17" width="6.0" height="1.22" fill="#8bc0dc"/>
<rect x="462.1" y="344.09" width="6.0" height="1.22" fill="#82bbd8"/>
<rect x="462.1" y="345.01" width="6.0" height="1.22" fill="#79b5d6"/>
<rect x="462.1" y="345.93" width="6.0" height="1.22" fill="#71b0d3"/>
<rect x="462.1" y="346.86" width="6.0" height="1.22" fill="#68abd0"/>
<rect x="462.1" y="347.78" width="6.0" height="1.22" fill="#60a5cd"/>
<rect x="462.1" y="348.70" width="6.0" height="1.22" fill="#58a0ca"/>
<rect x="462.1" y="349.62" width="6.0" height="1.22" fill="#509bc8"/>
<rect x="462.1" y="350.54" width="6.0" height="1.22" fill="#4997c5"/>
<rect x="462.1" y="351.47" width="6.0" height="1.22" fill="#4292c2"/>
<rect x="462.1" y="352.39" width="6.0" height="1.22" fill="#3f8ec0"/>
<rect x="462.1" y="353.31" width="6.0" height="1.22" fill="#3c89be"/>
<rect x="462.1" y="354.23" width="6.0" height="1.22" fill="#3985bc"/>
<rect x="462.1" y="355.16" width="6.0" height="1.22" fill="#3581ba"/>
<rect x="462.1" y="356.08" width="6.0" height="1.22" fill="#327db8"/>
<rect x="462.1" y="357.00" width="6.0" height="1.22" fill="#2f79b6"/>
<rect x="462.1" y="357.92" width="6.0" height="1.22" fill="#2c75b4"/>
<rect x="462.1" y="358.84" width="6.0" height="1.22" fill="#2971b2"/>
<rect x="462.1" y="359.77" width="6.0" height="1.22" fill="#276db0"/>
<rect x="462.1" y="360.69" width="6.0" height="1.22" fill="#2469ae"/>
<rect x="462.1" y="361.61" width="6.0" height="1.22" fill="#2166ab"/>
<rect x="462.1" y="362.53" width="6.0" height="1.22" fill="#1e61a5"/>
<rect x="462.1" y="363.46" width="6.0" height="1.22" fill="#1c5d9f"/>
<rect x="462.1" y="364.38" width="6.0" height="1.22" fill="#1a5899"/>
<rect x="462.1" y="365.30" width="6.0" height="1.22" fill="#185493"/>
<rect x="462.1" y="366.22" width="6.0" height="1.22" fill="#154f8d"/>
<rect x="462.1" y="367.14" width="6.0" height="1.22" fill="#134b87"/>
<rect x="462.1" y="368.07" width="6.0" height="1.22" fill="#114781"/>
<rect x="462.1" y="368.99" width="6.0" height="1.22" fill="#0f437b"/>
<rect x="462.1" y="369.91" width="6.0" height="1.22" fill="#0c3e75"/>
<rect x="462.1" y="370.83" width="6.0" height="1.22" fill="#0a3a6f"/>
<rect x="462.1" y="371.76" width="6.0" height="1.22" fill="#08366a"/>
<rect x="462.1" y="372.68" width="6.0" height="1.22" fill="#063264"/>
<text x="469.90" y="293.00" font-size="5.07" text-anchor="start" fill="#222" color="#222" font-weight="normal" >1</text>
<text x="469.90" y="313.75" font-size="5.07" text-anchor="start" fill="#222" color="#222" font-weight="normal" >0.5</text>
<text x="469.90" y="334.50" font-size="5.07" text-anchor="start" fill="#222" color="#222" font-weight="normal" >0</text>
<text x="469.90" y="355.25" font-size="5.07" text-anchor="start" fill="#222" color="#222" font-weight="normal" >-0.5</text>
<text x="469.90" y="376.00" font-size="5.07" text-anchor="start" fill="#222" color="#222" font-weight="normal" >-1</text>
<path d="M37.69,290.2V260.4H113.1V277.7 M48.86,290.2V277.7H177.25V280.0 M73.5,284.75V280.0H281.25V282.6 M60.03,290.2V284.75H86.7V288.3 M71.19,290.2V288.3H102.3V288.8 M82.37,290.2V288.8H122.3V289.2 M93.53,290.2V289.2H151.2V289.5 M104.71,290.2V289.5H238.75V290.2 M115.88,289.5V290.2 M127.04,289.5V290.2 M138.22,289.5V290.2 M149.38,289.5V290.2 M160.56,289.5V290.2 M171.72,289.5V290.2 M182.89,289.5V290.2 M194.06,289.5V290.2 M205.23,289.5V290.2 M216.41,289.5V290.2 M227.57,289.5V290.2 M255.2,284.4V282.6H307.5V283.9 M249.91,290.2V284.4H261.08V290.2 M280.6,286.4V283.9H335.7V285.2 M272.25,290.2V286.4H288.9V287.25 M283.43,290.2V287.25H294.60V290.2 M315.5,286.0V285.2H355.9V286.0 M305.77,290.2V286.0H325.3V287.0 M316.94,290.2V287.0H333.6V287.8 M328.11,290.2V287.8H339.28V290.2 M350.44,290.2V286.0H361.62V290.2" stroke="#555" stroke-width="0.55" fill="none"/>
<path d="M32.00,299.40H31.20V305.50H32.00 M32.00,293.30H29.30V302.45H31.20 M32.00,323.80H30.90V329.90H32.00 M32.00,317.70H28.30V326.85H30.90 M32.00,311.60H24.20V322.27H28.30 M29.30,297.88H22.20V316.94H24.20 M32.00,342.10H28.60V348.20H32.00 M32.00,336.00H20.10V345.15H28.60 M32.00,360.40H29.10V366.50H32.00 M32.00,354.30H20.70V363.45H29.10 M32.00,384.80H27.50V390.90H32.00 M32.00,403.10H26.50V409.20H32.00 M32.00,397.00H26.00V406.15H26.50 M27.50,387.85H23.00V401.57H26.00 M32.00,378.70H22.50V394.71H23.00 M32.00,372.60H15.40V386.71H22.50 M20.70,358.88H14.80V379.65H15.40 M20.10,340.57H5.30V369.26H14.80 M22.20,307.41H2.20V354.92H5.30" stroke="#555" stroke-width="0.55" fill="none"/>
</svg>
</body></html>
